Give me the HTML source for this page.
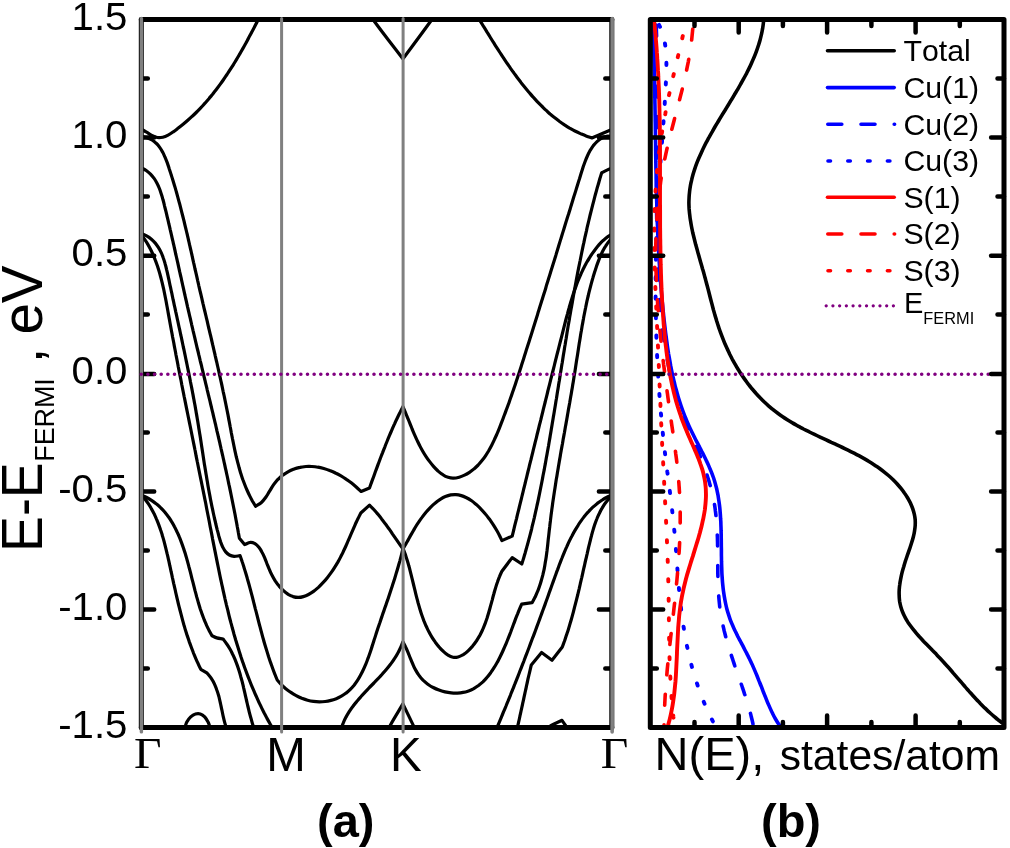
<!DOCTYPE html>
<html lang="en"><head><meta charset="utf-8"><title>Band structure and DOS</title>
<style>html,body{margin:0;padding:0;background:#fff}text{font-kerning:none}svg{display:block}</style></head>
<body>
<svg width="1010" height="848" viewBox="0 0 1010 848">
<rect width="1010" height="848" fill="#fff"/>
<defs><clipPath id="ca"><rect x="141.3" y="19.5" width="470.5" height="707.9"/></clipPath>
<clipPath id="cb"><rect x="650.3" y="19.5" width="353.7" height="707.9"/></clipPath></defs>
<g clip-path="url(#ca)" fill="none" stroke="#000" stroke-width="3.2" stroke-linejoin="round" stroke-linecap="round">
<path d="M141.0 129.0C142.7 130.0 144.5 130.9 146.1 131.9C148.0 133.0 149.8 134.3 151.7 135.3C153.5 136.2 155.4 137.1 157.3 137.5C159.1 137.8 161.0 137.6 162.8 137.2C164.6 136.8 166.4 136.0 168.1 135.1C169.9 134.2 171.6 133.0 173.3 131.8C175.0 130.7 176.6 129.4 178.3 128.1C179.9 126.9 181.5 125.6 183.1 124.3C184.7 123.0 186.2 121.7 187.8 120.3C189.3 119.0 190.8 117.6 192.3 116.2C193.8 114.9 195.2 113.5 196.7 112.0C198.1 110.6 199.5 109.1 200.9 107.7C202.3 106.2 203.6 104.7 205.0 103.2C206.3 101.7 207.6 100.2 208.9 98.7C210.2 97.1 211.5 95.6 212.8 94.0C214.0 92.4 215.3 90.8 216.5 89.2C217.7 87.6 218.9 86.0 220.1 84.4C221.3 82.8 222.5 81.1 223.6 79.5C224.8 77.8 225.9 76.1 227.0 74.5C228.1 72.8 229.2 71.1 230.3 69.4C231.4 67.7 232.5 66.0 233.6 64.3C234.6 62.6 235.7 60.8 236.7 59.1C237.8 57.4 238.8 55.6 239.8 53.9C240.8 52.1 241.8 50.4 242.8 48.6C243.8 46.8 244.8 45.1 245.8 43.3C246.7 41.5 247.7 39.8 248.6 38.0C249.6 36.2 250.5 34.4 251.5 32.6C252.4 30.8 253.4 29.0 254.3 27.3C255.2 25.5 256.1 23.7 257.1 21.9C258.0 20.1 258.9 18.3 259.8 16.5"/>
<path d="M477.5 16.5C478.5 18.2 479.6 19.9 480.6 21.6C481.7 23.3 482.7 25.0 483.7 26.7C484.8 28.4 485.9 30.2 486.9 31.9C488.0 33.6 489.0 35.3 490.1 37.0C491.2 38.8 492.2 40.5 493.3 42.2C494.4 43.9 495.5 45.7 496.6 47.4C497.7 49.1 498.8 50.8 499.9 52.5C501.0 54.2 502.1 56.0 503.3 57.7C504.4 59.4 505.5 61.1 506.7 62.8C507.9 64.4 509.0 66.1 510.2 67.8C511.4 69.5 512.6 71.2 513.8 72.8C515.0 74.5 516.2 76.1 517.4 77.8C518.6 79.4 519.9 81.0 521.1 82.7C522.4 84.3 523.7 85.9 525.0 87.5C526.2 89.0 527.5 90.6 528.9 92.2C530.2 93.7 531.5 95.3 532.9 96.8C534.2 98.3 535.6 99.8 537.0 101.3C538.4 102.8 539.8 104.2 541.3 105.7C542.7 107.1 544.2 108.5 545.6 109.9C547.1 111.3 548.6 112.6 550.1 114.0C551.7 115.3 553.2 116.6 554.8 117.8C556.4 119.1 558.0 120.3 559.6 121.5C561.2 122.6 562.9 123.8 564.5 124.9C566.2 126.0 567.9 127.1 569.6 128.1C571.4 129.1 573.1 130.1 574.9 131.0C576.7 131.9 578.6 132.8 580.4 133.6C582.3 134.4 584.1 135.2 586.1 135.9C588.0 136.6 590.0 137.2 591.9 137.9C594.6 136.8 597.3 135.6 600.0 134.5C603.1 133.2 606.3 131.8 609.4 130.5C610.6 130.0 611.8 129.5 613.0 129.0"/>
<path d="M372.0 16.5C372.6 17.9 373.0 19.5 373.9 20.8C383.3 33.7 393.2 46.2 402.9 58.9C412.3 46.2 421.8 33.6 431.0 20.8C431.8 19.6 432.3 18.3 433.0 17.0"/>
<path d="M141.0 136.4C143.0 136.8 145.0 137.0 146.9 137.6C148.7 138.2 150.4 139.0 152.0 140.0C153.5 140.9 154.9 142.0 156.2 143.3C157.5 144.5 158.6 145.9 159.7 147.4C160.8 148.9 161.7 150.5 162.6 152.1C163.5 153.8 164.3 155.6 165.1 157.3C165.9 159.2 166.6 161.0 167.3 162.9C168.0 164.8 168.6 166.8 169.2 168.7C169.9 170.6 170.5 172.6 171.1 174.5C171.7 176.4 172.3 178.4 172.9 180.3C173.5 182.3 174.1 184.2 174.7 186.2C175.2 188.1 175.8 190.0 176.4 192.0C176.9 193.9 177.4 195.9 178.0 197.9C178.5 199.8 179.0 201.8 179.6 203.7C180.1 205.7 180.6 207.6 181.1 209.6C181.6 211.6 182.1 213.5 182.6 215.5C183.1 217.4 183.6 219.4 184.1 221.4C184.5 223.3 185.0 225.3 185.5 227.3C186.0 229.2 186.4 231.2 186.9 233.2C187.4 235.1 187.8 237.1 188.3 239.1C188.7 241.0 189.2 243.0 189.6 244.9C190.1 246.9 190.5 248.9 191.0 250.8C191.4 252.8 191.9 254.8 192.3 256.7C192.7 258.7 193.2 260.7 193.6 262.6C194.1 264.6 194.5 266.5 194.9 268.5C195.4 270.5 195.8 272.4 196.3 274.4C196.7 276.3 197.2 278.3 197.6 280.3C198.1 282.2 198.5 284.2 198.9 286.1C199.4 288.1 199.8 290.0 200.3 292.0C200.8 293.9 201.2 295.9 201.7 297.8C202.1 299.8 202.6 301.7 203.0 303.6C203.5 305.6 203.9 307.5 204.4 309.5C204.9 311.4 205.3 313.4 205.8 315.3C206.2 317.3 206.7 319.2 207.2 321.1C207.6 323.1 208.1 325.0 208.5 327.0C209.0 328.9 209.4 330.9 209.9 332.8C210.4 334.7 210.8 336.7 211.3 338.6C211.7 340.6 212.2 342.5 212.6 344.4C213.1 346.4 213.5 348.3 214.0 350.3C214.4 352.2 214.9 354.2 215.3 356.1C215.8 358.1 216.2 360.0 216.7 362.0C217.1 363.9 217.6 365.8 218.0 367.8C218.4 369.7 218.9 371.7 219.3 373.6C219.7 375.6 220.2 377.6 220.6 379.5C221.0 381.5 221.5 383.4 221.9 385.4C222.3 387.3 222.7 389.3 223.1 391.3C223.6 393.2 224.0 395.2 224.4 397.1C224.8 399.1 225.2 401.1 225.6 403.0C226.0 405.0 226.4 407.0 226.8 409.0C227.2 410.9 227.6 412.9 228.0 414.9C228.4 416.9 228.7 418.9 229.1 420.8C229.5 422.8 229.9 424.8 230.2 426.8C230.6 428.8 231.0 430.8 231.3 432.8C231.7 434.7 232.1 436.7 232.5 438.7C232.9 440.7 233.3 442.7 233.7 444.7C234.1 446.6 234.5 448.6 234.9 450.6C235.3 452.5 235.8 454.5 236.2 456.5C236.7 458.4 237.2 460.4 237.7 462.3C238.2 464.2 238.7 466.2 239.2 468.1C239.8 470.0 240.3 471.9 240.9 473.8C241.5 475.7 242.2 477.6 242.8 479.5C243.5 481.3 244.2 483.2 244.9 485.0C245.6 486.9 246.4 488.7 247.2 490.5C248.0 492.3 248.8 494.1 249.7 495.9C250.6 497.7 251.5 499.4 252.5 501.2C253.5 502.9 254.6 504.6 255.6 506.3C257.5 505.0 259.7 504.0 261.4 502.5C263.1 501.0 264.5 499.1 265.8 497.3C267.2 495.3 268.3 493.2 269.6 491.2C270.8 489.2 271.9 487.1 273.3 485.1C274.6 483.2 276.1 481.5 277.5 479.7C279.3 478.2 281.0 476.5 282.8 475.1C284.6 473.8 286.5 472.7 288.4 471.6C290.2 470.6 292.2 469.8 294.1 469.0C296.0 468.3 298.0 467.8 300.0 467.4C301.9 466.9 303.9 466.7 305.9 466.5C307.9 466.4 309.9 466.4 311.9 466.5C313.9 466.6 315.9 466.8 317.9 467.2C319.9 467.5 321.9 468.0 323.8 468.5C325.8 469.1 327.8 469.7 329.7 470.5C331.6 471.2 333.6 472.0 335.4 473.0C337.3 473.9 339.2 474.9 341.0 475.9C342.9 477.0 344.7 478.2 346.4 479.4C348.2 480.6 349.9 481.8 351.6 483.1C353.3 484.4 354.9 485.8 356.5 487.2C358.1 488.6 359.6 490.1 361.1 491.5L369.5 488.0C370.2 486.0 370.9 484.1 371.6 482.1C372.3 480.1 373.1 478.2 373.8 476.2C374.5 474.2 375.2 472.3 375.9 470.3C376.7 468.3 377.4 466.4 378.1 464.4C378.8 462.4 379.6 460.5 380.3 458.5C381.1 456.5 381.8 454.6 382.6 452.6C383.3 450.7 384.1 448.7 384.9 446.8C385.6 444.8 386.4 442.9 387.2 441.0C388.0 439.0 388.8 437.1 389.6 435.2C390.4 433.2 391.3 431.3 392.1 429.4C392.9 427.5 393.8 425.6 394.7 423.6C395.5 421.7 396.4 419.8 397.3 418.0C398.2 416.1 399.1 414.2 400.1 412.3C401.0 410.4 402.0 408.6 402.9 406.7C403.7 408.5 404.5 410.4 405.3 412.2C406.1 414.1 406.8 415.9 407.6 417.8C408.4 419.6 409.1 421.5 409.9 423.4C410.6 425.3 411.4 427.1 412.1 429.0C412.9 430.9 413.7 432.7 414.5 434.6C415.3 436.4 416.1 438.3 417.0 440.1C417.9 442.0 418.7 443.8 419.7 445.6C420.6 447.4 421.6 449.2 422.6 451.0C423.6 452.8 424.7 454.5 425.9 456.3C427.0 458.0 428.2 459.7 429.5 461.4C430.8 463.1 432.1 464.8 433.5 466.4C434.9 468.0 436.4 469.5 438.0 471.0C439.5 472.3 441.1 473.7 442.9 474.7C444.5 475.8 446.2 476.7 448.1 477.3C449.8 477.8 451.7 478.2 453.5 478.1C455.4 478.1 457.3 477.7 459.2 477.2C461.0 476.7 462.8 475.9 464.5 475.1C466.2 474.3 467.9 473.3 469.5 472.3C471.1 471.3 472.6 470.1 474.0 468.9C475.5 467.7 476.8 466.4 478.2 465.0C479.5 463.6 480.8 462.1 482.0 460.6C483.2 459.1 484.4 457.5 485.5 455.8C486.6 454.1 487.7 452.4 488.7 450.7C489.7 448.9 490.7 447.1 491.7 445.2C492.6 443.4 493.5 441.5 494.4 439.6C495.3 437.6 496.2 435.7 497.0 433.8C497.9 431.8 498.7 429.8 499.5 427.8C500.3 425.9 501.0 423.9 501.8 421.9C502.6 419.9 503.3 418.0 504.0 416.0C504.8 414.1 505.5 412.1 506.2 410.1C507.0 408.2 507.7 406.3 508.4 404.3C509.1 402.4 509.7 400.4 510.4 398.5C511.1 396.6 511.8 394.7 512.4 392.7C513.1 390.8 513.8 388.9 514.4 387.0C515.1 385.1 515.7 383.2 516.3 381.2C517.0 379.3 517.6 377.4 518.2 375.5C518.8 373.6 519.5 371.7 520.1 369.8C520.7 367.9 521.3 366.0 521.9 364.1C522.5 362.2 523.1 360.3 523.7 358.4C524.3 356.5 524.9 354.6 525.5 352.7C526.1 350.8 526.7 348.9 527.3 347.1C527.9 345.2 528.5 343.3 529.1 341.4C529.7 339.5 530.3 337.6 530.9 335.7C531.5 333.8 532.1 331.9 532.7 330.0C533.3 328.0 533.9 326.1 534.5 324.2C535.1 322.3 535.7 320.4 536.3 318.5C536.9 316.6 537.5 314.7 538.0 312.8C538.6 310.9 539.2 309.0 539.8 307.1C540.4 305.2 541.0 303.3 541.6 301.3C542.2 299.4 542.8 297.5 543.4 295.6C544.0 293.7 544.6 291.8 545.2 289.9C545.8 287.9 546.3 286.0 546.9 284.1C547.5 282.2 548.1 280.2 548.7 278.3C549.3 276.4 549.9 274.5 550.5 272.6C551.1 270.6 551.7 268.7 552.3 266.8C552.9 264.8 553.5 262.9 554.1 261.0C554.7 259.0 555.3 257.1 555.9 255.2C556.4 253.2 557.0 251.3 557.6 249.4C558.2 247.4 558.8 245.5 559.4 243.5C560.0 241.6 560.6 239.6 561.2 237.7C561.8 235.8 562.4 233.8 563.0 231.9C563.6 229.9 564.2 228.0 564.8 226.0C565.4 224.0 566.0 222.1 566.6 220.1C567.2 218.2 567.8 216.2 568.5 214.3C569.1 212.3 569.7 210.3 570.3 208.4C570.9 206.4 571.5 204.4 572.1 202.5C572.7 200.5 573.3 198.5 573.9 196.5C574.5 194.6 575.2 192.6 575.8 190.6C576.4 188.6 577.0 186.6 577.6 184.7C578.2 182.7 578.8 180.7 579.5 178.7C580.1 176.7 580.7 174.7 581.3 172.7C581.9 170.7 582.6 168.7 583.2 166.8C583.9 164.8 584.6 162.9 585.3 161.0C586.0 159.1 586.8 157.3 587.6 155.5C588.4 153.7 589.3 152.0 590.2 150.3C591.2 148.7 592.2 147.1 593.3 145.6C594.5 144.2 595.7 142.8 597.0 141.6C598.3 140.4 599.7 139.2 601.3 138.3C602.9 137.4 604.7 136.6 606.5 136.3C608.6 136.0 610.8 136.5 613.0 136.6"/>
<path d="M141.0 167.6C142.7 168.6 144.6 169.4 146.2 170.5C147.7 171.6 149.2 172.8 150.5 174.1C151.8 175.5 153.0 176.9 154.1 178.4C155.2 179.9 156.1 181.6 157.0 183.2C157.9 184.9 158.7 186.7 159.4 188.5C160.1 190.3 160.7 192.2 161.3 194.0C162.0 196.0 162.5 197.9 163.0 199.8C163.6 201.8 164.1 203.8 164.5 205.8C165.0 207.8 165.5 209.7 166.0 211.7C166.5 213.7 166.9 215.7 167.4 217.7C167.9 219.7 168.4 221.7 168.8 223.7C169.3 225.7 169.8 227.7 170.2 229.6C170.7 231.6 171.1 233.6 171.6 235.6C172.0 237.6 172.5 239.6 173.0 241.6C173.4 243.6 173.9 245.6 174.3 247.5C174.8 249.5 175.2 251.5 175.6 253.5C176.1 255.5 176.5 257.5 177.0 259.5C177.4 261.5 177.9 263.4 178.3 265.4C178.7 267.4 179.2 269.4 179.6 271.4C180.1 273.4 180.5 275.4 181.0 277.3C181.4 279.3 181.8 281.3 182.3 283.3C182.7 285.3 183.2 287.3 183.6 289.2C184.0 291.2 184.5 293.2 184.9 295.2C185.4 297.2 185.8 299.2 186.3 301.1C186.7 303.1 187.2 305.1 187.6 307.1C188.1 309.0 188.5 311.0 189.0 313.0C189.4 315.0 189.9 317.0 190.4 318.9C190.8 320.9 191.3 322.9 191.7 324.8C192.2 326.8 192.7 328.8 193.1 330.8C193.6 332.7 194.0 334.7 194.5 336.7C195.0 338.7 195.4 340.6 195.9 342.6C196.4 344.6 196.8 346.5 197.3 348.5C197.8 350.5 198.3 352.4 198.7 354.4C199.2 356.4 199.7 358.3 200.1 360.3C200.6 362.3 201.1 364.2 201.6 366.2C202.0 368.2 202.5 370.1 203.0 372.1C203.5 374.1 203.9 376.0 204.4 378.0C204.9 380.0 205.3 381.9 205.8 383.9C206.3 385.9 206.8 387.8 207.2 389.8C207.7 391.8 208.2 393.7 208.6 395.7C209.1 397.7 209.6 399.6 210.1 401.6C210.5 403.6 211.0 405.5 211.5 407.5C211.9 409.5 212.4 411.4 212.9 413.4C213.3 415.4 213.8 417.3 214.3 419.3C214.7 421.3 215.2 423.2 215.7 425.2C216.1 427.2 216.6 429.1 217.0 431.1C217.5 433.1 218.0 435.0 218.4 437.0C218.9 439.0 219.3 441.0 219.8 442.9C220.2 444.9 220.7 446.9 221.1 448.8C221.6 450.8 222.0 452.8 222.5 454.8C222.9 456.7 223.3 458.7 223.8 460.7C224.2 462.7 224.7 464.6 225.1 466.6C225.5 468.6 226.0 470.6 226.4 472.5C226.8 474.5 227.3 476.5 227.7 478.5C228.1 480.5 228.5 482.4 228.9 484.4C229.4 486.4 229.8 488.4 230.2 490.4C230.6 492.3 231.0 494.3 231.4 496.3C231.8 498.3 232.2 500.3 232.6 502.3C233.0 504.3 233.4 506.3 233.8 508.2C234.2 510.2 234.6 512.2 235.0 514.2C235.4 516.2 235.7 518.2 236.1 520.2C236.5 522.2 236.9 524.2 237.2 526.2C237.6 528.2 238.0 530.2 238.3 532.2C238.7 534.2 239.0 536.2 239.4 538.2L244.6 544.6C246.5 543.9 248.4 542.6 250.3 542.4C251.8 542.2 253.6 542.9 255.0 543.6C256.5 544.5 257.8 545.9 258.9 547.3C260.1 548.8 261.1 550.5 262.0 552.2C263.0 553.9 263.8 555.7 264.6 557.6C265.4 559.4 266.1 561.4 266.8 563.3C267.6 565.2 268.3 567.2 269.2 569.1C270.0 571.1 270.9 573.1 271.9 575.0C272.9 577.0 274.0 578.9 275.2 580.8C276.4 582.6 277.7 584.4 279.1 586.1C280.5 587.7 281.9 589.3 283.5 590.7C284.9 592.0 286.5 593.2 288.2 594.3C289.7 595.2 291.4 596.0 293.1 596.6C294.7 597.1 296.5 597.4 298.2 597.4C299.9 597.4 301.7 597.1 303.3 596.6C305.1 596.1 306.8 595.4 308.5 594.5C310.2 593.6 311.9 592.6 313.5 591.4C315.2 590.2 316.8 588.8 318.4 587.4C320.0 585.9 321.5 584.3 323.0 582.7C324.5 581.1 326.0 579.4 327.3 577.7C328.7 576.0 330.0 574.2 331.3 572.4C332.5 570.7 333.7 568.9 334.8 567.1C335.9 565.4 337.0 563.6 338.0 561.9C339.0 560.1 339.9 558.4 340.8 556.6C341.7 554.8 342.6 553.1 343.4 551.3C344.3 549.5 345.1 547.8 345.9 546.0C346.7 544.2 347.4 542.4 348.2 540.6C349.0 538.9 349.7 537.1 350.5 535.3C351.3 533.4 352.1 531.6 352.9 529.8C353.7 528.0 354.5 526.1 355.3 524.3C356.2 522.4 357.0 520.5 357.9 518.7C358.9 516.8 359.8 514.9 360.8 513.0L369.5 505.1C370.9 506.6 372.4 508.0 373.8 509.5C375.1 511.0 376.5 512.6 377.8 514.1C379.1 515.7 380.4 517.3 381.6 518.9C382.9 520.5 384.1 522.1 385.3 523.8C386.6 525.4 387.7 527.1 388.9 528.7C390.1 530.4 391.3 532.1 392.4 533.8C393.6 535.5 394.8 537.2 395.9 538.8C397.1 540.5 398.2 542.2 399.4 543.9C400.5 545.6 401.7 547.2 402.9 548.9"/>
<path d="M402.9 548.9C403.9 547.2 404.9 545.6 405.9 543.9C406.9 542.1 407.9 540.4 408.8 538.7C409.8 536.9 410.8 535.1 411.8 533.4C412.8 531.6 413.9 529.8 414.9 528.0C416.0 526.2 417.1 524.4 418.3 522.7C419.5 520.9 420.7 519.1 422.0 517.4C423.3 515.6 424.6 513.9 426.0 512.2C427.5 510.5 429.0 508.9 430.5 507.3C432.0 505.8 433.6 504.3 435.3 503.0C436.8 501.6 438.5 500.4 440.2 499.3C441.9 498.3 443.6 497.3 445.4 496.6C447.1 495.9 448.9 495.3 450.7 494.9C452.4 494.6 454.2 494.5 456.0 494.6C457.8 494.7 459.6 495.1 461.3 495.6C463.1 496.1 464.8 496.9 466.5 497.7C468.3 498.6 470.0 499.7 471.6 500.8C473.3 502.0 474.9 503.4 476.5 504.7C478.1 506.2 479.7 507.7 481.2 509.3C482.8 510.9 484.2 512.6 485.6 514.3C487.1 516.0 488.4 517.8 489.8 519.6C491.0 521.4 492.3 523.2 493.5 525.1C494.6 526.8 495.7 528.6 496.8 530.5C497.8 532.2 498.7 533.9 499.6 535.7C500.4 537.3 501.1 539.0 501.9 540.6L512.2 536.1C512.7 534.1 513.2 532.1 513.7 530.2C514.1 528.2 514.6 526.2 515.1 524.2C515.6 522.3 516.1 520.3 516.6 518.3C517.0 516.4 517.5 514.4 518.0 512.4C518.5 510.5 519.0 508.5 519.4 506.6C519.9 504.6 520.4 502.7 520.9 500.7C521.4 498.8 521.8 496.8 522.3 494.8C522.8 492.9 523.3 491.0 523.7 489.0C524.2 487.1 524.7 485.1 525.2 483.2C525.6 481.2 526.1 479.3 526.6 477.4C527.1 475.4 527.5 473.5 528.0 471.5C528.5 469.6 529.0 467.7 529.4 465.7C529.9 463.8 530.4 461.9 530.9 459.9C531.3 458.0 531.8 456.1 532.3 454.1C532.8 452.2 533.2 450.3 533.7 448.3C534.2 446.4 534.7 444.5 535.1 442.6C535.6 440.6 536.1 438.7 536.6 436.8C537.0 434.8 537.5 432.9 538.0 431.0C538.5 429.1 539.0 427.1 539.4 425.2C539.9 423.3 540.4 421.3 540.9 419.4C541.3 417.5 541.8 415.6 542.3 413.6C542.8 411.7 543.2 409.8 543.7 407.8C544.2 405.9 544.7 404.0 545.2 402.0C545.6 400.1 546.1 398.2 546.6 396.3C547.1 394.3 547.6 392.4 548.0 390.4C548.5 388.5 549.0 386.6 549.5 384.6C550.0 382.7 550.5 380.8 550.9 378.8C551.4 376.9 551.9 374.9 552.4 373.0C552.9 371.0 553.4 369.1 553.9 367.2C554.4 365.2 554.8 363.3 555.3 361.3C555.8 359.4 556.3 357.4 556.8 355.4C557.3 353.5 557.8 351.5 558.3 349.6C558.8 347.6 559.3 345.7 559.8 343.7C560.3 341.7 560.8 339.8 561.3 337.8C561.8 335.8 562.3 333.8 562.8 331.9C563.3 329.9 563.8 327.9 564.3 325.9C564.8 324.0 565.3 322.0 565.8 320.0C566.3 318.0 566.8 316.1 567.4 314.1C567.9 312.1 568.4 310.1 569.0 308.2C569.5 306.2 570.1 304.3 570.7 302.3C571.3 300.4 571.9 298.4 572.5 296.5C573.1 294.6 573.7 292.7 574.4 290.8C575.0 288.9 575.7 287.0 576.4 285.1C577.1 283.2 577.8 281.4 578.6 279.5C579.3 277.7 580.1 275.9 580.9 274.1C581.7 272.3 582.6 270.5 583.4 268.7C584.3 267.0 585.2 265.2 586.1 263.5C587.1 261.8 588.0 260.1 589.1 258.5C590.1 256.8 591.1 255.2 592.2 253.6C593.3 252.0 594.4 250.4 595.6 248.9C596.8 247.4 598.0 245.9 599.3 244.4C600.6 243.0 601.9 241.6 603.4 240.3C604.8 239.0 606.3 237.7 607.9 236.6C609.5 235.5 611.3 234.5 613.0 233.5"/>
<path d="M613.0 168.0C611.8 168.3 610.5 168.5 609.4 169.0C606.8 170.1 604.3 171.5 601.7 172.7C601.1 174.6 600.5 176.6 599.9 178.5C599.4 180.4 598.8 182.3 598.3 184.3C597.7 186.2 597.1 188.2 596.6 190.1C596.1 192.0 595.5 194.0 595.0 195.9C594.5 197.9 594.0 199.8 593.5 201.8C593.0 203.7 592.5 205.7 592.0 207.6C591.5 209.6 591.0 211.5 590.5 213.5C590.0 215.4 589.6 217.4 589.1 219.3C588.6 221.3 588.2 223.3 587.7 225.2C587.2 227.2 586.8 229.2 586.4 231.1C585.9 233.1 585.5 235.0 585.0 237.0C584.6 239.0 584.2 241.0 583.8 242.9C583.3 244.9 582.9 246.9 582.5 248.8C582.1 250.8 581.7 252.8 581.3 254.8C580.9 256.7 580.5 258.7 580.1 260.7C579.7 262.7 579.3 264.7 578.9 266.6C578.5 268.6 578.1 270.6 577.7 272.6C577.4 274.6 577.0 276.5 576.6 278.5C576.2 280.5 575.9 282.5 575.5 284.5C575.1 286.5 574.8 288.5 574.4 290.4C574.0 292.4 573.7 294.4 573.3 296.4C573.0 298.4 572.6 300.4 572.3 302.4C571.9 304.4 571.6 306.4 571.2 308.3C570.9 310.3 570.5 312.3 570.2 314.3C569.8 316.3 569.5 318.3 569.2 320.3C568.8 322.3 568.5 324.3 568.1 326.3C567.8 328.3 567.5 330.3 567.1 332.3C566.8 334.3 566.5 336.3 566.2 338.3C565.8 340.3 565.5 342.3 565.2 344.2C564.8 346.2 564.5 348.2 564.2 350.2C563.9 352.2 563.5 354.2 563.2 356.2C562.9 358.2 562.6 360.2 562.3 362.2C561.9 364.2 561.6 366.2 561.3 368.2C561.0 370.2 560.6 372.2 560.3 374.2C560.0 376.2 559.7 378.2 559.4 380.2C559.0 382.2 558.7 384.2 558.4 386.2C558.1 388.2 557.8 390.2 557.4 392.2C557.1 394.2 556.8 396.2 556.5 398.2C556.1 400.2 555.8 402.2 555.5 404.2C555.2 406.2 554.8 408.2 554.5 410.2C554.2 412.1 553.9 414.1 553.5 416.1C553.2 418.1 552.9 420.1 552.5 422.1C552.2 424.1 551.9 426.1 551.5 428.1C551.2 430.1 550.9 432.1 550.5 434.1C550.2 436.1 549.8 438.1 549.5 440.1C549.2 442.1 548.8 444.0 548.5 446.0C548.1 448.0 547.8 450.0 547.4 452.0C547.1 454.0 546.7 456.0 546.3 458.0C546.0 460.0 545.6 461.9 545.3 463.9C544.9 465.9 544.5 467.9 544.2 469.9C543.8 471.9 543.4 473.9 543.0 475.8C542.7 477.8 542.3 479.8 541.9 481.8C541.5 483.8 541.1 485.7 540.7 487.7C540.3 489.7 539.9 491.7 539.5 493.7C539.1 495.6 538.7 497.6 538.3 499.6C537.9 501.6 537.5 503.5 537.0 505.5C536.6 507.5 536.2 509.4 535.7 511.4C535.3 513.4 534.8 515.3 534.4 517.3C533.9 519.3 533.5 521.2 533.0 523.2C532.5 525.1 532.0 527.1 531.6 529.1C531.1 531.0 530.6 533.0 530.1 534.9C529.6 536.9 529.0 538.8 528.5 540.8C528.0 542.7 527.5 544.6 526.9 546.6C526.4 548.5 525.8 550.5 525.3 552.4C524.7 554.3 524.2 556.3 523.6 558.2C523.0 560.1 522.4 562.1 521.8 564.0L512.2 557.6L501.9 571.2C501.1 573.0 500.2 574.8 499.5 576.6C498.7 578.5 498.0 580.4 497.4 582.3C496.7 584.2 496.1 586.1 495.5 588.1C494.9 590.1 494.3 592.0 493.8 594.0C493.2 596.0 492.7 598.0 492.2 600.1C491.6 602.1 491.1 604.1 490.5 606.1C490.0 608.2 489.4 610.2 488.8 612.2C488.2 614.2 487.6 616.2 487.0 618.2C486.3 620.2 485.6 622.2 484.9 624.2C484.1 626.1 483.3 628.1 482.5 630.0C481.6 631.9 480.7 633.8 479.7 635.6C478.6 637.4 477.6 639.2 476.4 641.0C475.2 642.7 473.9 644.5 472.6 646.1C471.2 647.7 469.7 649.3 468.1 650.8C466.6 652.2 465.0 653.6 463.3 654.7C461.7 655.6 459.9 656.6 458.1 657.0C456.5 657.4 454.6 657.6 453.0 657.3C451.2 657.0 449.5 656.1 448.0 655.1C446.3 654.1 444.8 652.7 443.3 651.3C441.8 650.0 440.4 648.4 439.0 646.9C437.7 645.4 436.5 643.8 435.3 642.2C434.1 640.5 432.9 638.8 431.9 637.1C430.8 635.4 429.8 633.6 428.9 631.8C427.9 630.0 427.1 628.1 426.2 626.3C425.4 624.4 424.6 622.5 423.8 620.6C423.1 618.6 422.4 616.6 421.7 614.7C421.0 612.7 420.4 610.7 419.8 608.7C419.2 606.6 418.6 604.6 418.0 602.5C417.5 600.5 416.9 598.4 416.4 596.4C415.9 594.3 415.4 592.3 414.9 590.2C414.4 588.1 413.9 586.1 413.4 584.0C412.9 581.9 412.4 579.9 411.9 577.9C411.4 575.8 410.9 573.8 410.4 571.8C409.9 569.8 409.4 567.8 408.8 565.8C408.3 563.9 407.7 561.9 407.1 560.0C406.5 558.1 405.9 556.2 405.3 554.3C404.6 552.5 403.9 550.7 403.2 548.9"/>
<path d="M141.0 233.3C142.9 234.2 144.8 234.9 146.6 235.9C148.3 236.8 149.9 237.9 151.4 239.2C152.8 240.4 154.1 241.7 155.3 243.1C156.5 244.5 157.5 246.1 158.5 247.7C159.5 249.3 160.4 250.9 161.2 252.6C162.0 254.4 162.7 256.2 163.3 258.0C164.0 259.9 164.6 261.8 165.1 263.7C165.7 265.7 166.2 267.6 166.6 269.6C167.1 271.6 167.6 273.6 168.0 275.6C168.4 277.6 168.9 279.7 169.3 281.7C169.7 283.7 170.1 285.7 170.6 287.7C171.0 289.7 171.4 291.7 171.9 293.7C172.3 295.7 172.7 297.7 173.1 299.7C173.6 301.7 174.0 303.7 174.4 305.7C174.9 307.6 175.3 309.6 175.7 311.6C176.2 313.6 176.6 315.6 177.0 317.5C177.4 319.5 177.9 321.5 178.3 323.5C178.7 325.4 179.1 327.4 179.6 329.4C180.0 331.3 180.4 333.3 180.8 335.2C181.3 337.2 181.7 339.2 182.1 341.1C182.5 343.1 182.9 345.0 183.3 347.0C183.8 348.9 184.2 350.9 184.6 352.8C185.0 354.8 185.4 356.7 185.8 358.7C186.2 360.6 186.6 362.6 187.0 364.5C187.4 366.5 187.8 368.4 188.2 370.4C188.6 372.3 189.0 374.3 189.4 376.2C189.8 378.1 190.2 380.1 190.5 382.0C190.9 384.0 191.3 385.9 191.7 387.9C192.1 389.8 192.4 391.8 192.8 393.7C193.2 395.6 193.5 397.6 193.9 399.5C194.2 401.5 194.6 403.4 195.0 405.4C195.3 407.3 195.6 409.3 196.0 411.2C196.3 413.2 196.7 415.1 197.0 417.1C197.3 419.0 197.7 421.0 198.0 422.9C198.3 424.9 198.6 426.8 198.9 428.8C199.2 430.7 199.6 432.7 199.9 434.7C200.2 436.6 200.5 438.6 200.8 440.5C201.1 442.5 201.4 444.5 201.7 446.4C202.0 448.4 202.3 450.4 202.6 452.3C202.9 454.3 203.2 456.3 203.5 458.2C203.8 460.2 204.1 462.2 204.4 464.2C204.7 466.1 205.1 468.1 205.4 470.1C205.7 472.1 206.0 474.1 206.4 476.0C206.7 478.0 207.0 480.0 207.4 482.0C207.7 484.0 208.0 486.0 208.4 488.0C208.8 490.0 209.1 492.0 209.5 493.9C209.9 495.9 210.2 497.9 210.6 499.9C211.0 501.9 211.4 503.9 211.8 505.9C212.2 507.9 212.7 510.0 213.1 512.0C213.5 514.0 214.0 516.0 214.4 518.0C214.9 520.0 215.4 522.0 215.8 524.0C216.3 526.0 216.8 528.1 217.3 530.1C217.9 532.1 218.4 534.1 218.9 536.2C219.5 538.1 220.0 540.1 220.7 542.1C221.4 543.9 222.0 545.7 222.9 547.4C223.7 549.0 224.6 550.6 225.7 551.9C226.7 553.1 228.0 554.3 229.4 555.0C230.8 555.8 232.5 556.3 234.1 556.4C236.1 556.5 238.1 555.9 240.1 555.7C240.8 557.6 241.5 559.6 242.1 561.5C242.8 563.5 243.4 565.5 244.0 567.4C244.6 569.4 245.2 571.3 245.8 573.3C246.4 575.3 247.0 577.3 247.5 579.2C248.1 581.2 248.7 583.2 249.2 585.2C249.7 587.2 250.3 589.2 250.8 591.2C251.3 593.2 251.9 595.1 252.4 597.1C252.9 599.1 253.4 601.1 253.9 603.1C254.4 605.1 254.9 607.1 255.4 609.1C256.0 611.1 256.5 613.1 257.0 615.1C257.5 617.1 258.0 619.1 258.5 621.1C259.0 623.1 259.5 625.1 260.1 627.1C260.6 629.1 261.1 631.1 261.7 633.1C262.2 635.0 262.7 637.0 263.3 639.0C263.8 641.0 264.4 643.0 265.0 645.0C265.6 646.9 266.2 648.9 266.8 650.9C267.4 652.8 268.0 654.8 268.6 656.8C269.3 658.7 269.9 660.7 270.6 662.6C271.3 664.6 272.0 666.5 272.7 668.5C273.4 670.4 274.1 672.3 274.9 674.3C275.6 676.2 276.4 678.1 277.2 680.0C278.6 681.5 279.8 683.1 281.3 684.5C282.7 686.0 284.3 687.4 285.8 688.7C287.5 690.0 289.1 691.3 290.9 692.4C292.6 693.6 294.4 694.7 296.2 695.6C298.0 696.6 299.9 697.5 301.8 698.3C303.7 699.0 305.7 699.7 307.6 700.2C309.5 700.7 311.5 701.1 313.5 701.4C315.5 701.7 317.4 701.8 319.4 701.8C321.3 701.8 323.3 701.7 325.2 701.5C327.1 701.3 329.0 700.9 330.9 700.4C332.7 700.0 334.5 699.4 336.3 698.7C338.0 698.0 339.8 697.1 341.4 696.2C343.0 695.3 344.6 694.3 346.1 693.1C347.6 692.0 349.0 690.7 350.3 689.4C351.6 688.1 352.9 686.6 354.1 685.2C355.3 683.6 356.4 682.1 357.5 680.4C358.6 678.8 359.6 677.0 360.5 675.3C361.5 673.5 362.4 671.7 363.3 669.8C364.2 668.0 365.0 666.0 365.8 664.1C366.6 662.2 367.3 660.2 368.1 658.2C368.8 656.2 369.5 654.2 370.2 652.2C370.9 650.2 371.5 648.1 372.2 646.1C372.8 644.1 373.5 642.1 374.1 640.0C374.8 638.1 375.4 636.1 376.0 634.1C376.7 632.1 377.3 630.2 377.9 628.3C378.6 626.3 379.2 624.4 379.9 622.5C380.5 620.7 381.1 618.8 381.8 616.9C382.4 615.1 383.0 613.2 383.7 611.4C384.3 609.5 384.9 607.7 385.6 605.9C386.2 604.0 386.8 602.2 387.5 600.4C388.1 598.6 388.7 596.8 389.3 594.9C389.9 593.1 390.5 591.3 391.1 589.5C391.8 587.6 392.4 585.8 392.9 583.9C393.5 582.1 394.1 580.2 394.7 578.4C395.3 576.5 395.9 574.6 396.4 572.7C397.0 570.8 397.6 568.9 398.1 567.0C398.7 565.0 399.2 563.1 399.8 561.1C400.3 559.1 400.9 557.1 401.4 555.1C401.9 553.0 402.4 551.0 402.9 548.9"/>
<path d="M141.0 234.5C142.2 236.1 143.4 237.6 144.5 239.2C145.6 240.8 146.7 242.4 147.7 244.1C148.7 245.8 149.6 247.5 150.5 249.2C151.4 251.0 152.2 252.7 153.0 254.5C153.8 256.3 154.5 258.1 155.2 259.9C156.0 261.8 156.6 263.6 157.3 265.5C157.9 267.4 158.5 269.3 159.1 271.2C159.7 273.1 160.2 275.0 160.7 277.0C161.2 278.9 161.7 280.9 162.2 282.8C162.7 284.8 163.1 286.8 163.6 288.8C164.0 290.7 164.4 292.7 164.8 294.7C165.2 296.7 165.6 298.8 166.0 300.8C166.4 302.8 166.7 304.8 167.1 306.8C167.5 308.8 167.8 310.9 168.2 312.9C168.6 314.9 168.9 316.9 169.3 318.9C169.7 320.9 170.0 323.0 170.4 325.0C170.8 327.0 171.1 329.0 171.5 331.0C171.9 333.0 172.3 335.0 172.6 337.0C173.0 339.0 173.4 341.0 173.8 343.0C174.1 345.0 174.5 347.0 174.9 349.0C175.3 351.0 175.7 353.0 176.0 355.0C176.4 357.0 176.8 359.0 177.2 361.0C177.6 363.0 178.0 365.0 178.3 367.0C178.7 368.9 179.1 370.9 179.5 372.9C179.9 374.9 180.3 376.9 180.7 378.9C181.1 380.9 181.5 382.8 181.8 384.8C182.2 386.8 182.6 388.8 183.0 390.8C183.4 392.7 183.8 394.7 184.2 396.7C184.6 398.7 185.0 400.6 185.4 402.6C185.8 404.6 186.2 406.6 186.6 408.6C187.0 410.5 187.4 412.5 187.8 414.5C188.2 416.5 188.6 418.4 189.0 420.4C189.4 422.4 189.8 424.3 190.2 426.3C190.6 428.3 191.0 430.3 191.4 432.2C191.8 434.2 192.2 436.2 192.6 438.2C193.0 440.1 193.4 442.1 193.8 444.1C194.2 446.0 194.6 448.0 195.0 450.0C195.4 452.0 195.8 453.9 196.1 455.9C196.5 457.9 196.9 459.8 197.3 461.8C197.7 463.8 198.1 465.8 198.5 467.7C198.9 469.7 199.3 471.7 199.7 473.7C200.1 475.6 200.5 477.6 200.9 479.6C201.3 481.6 201.7 483.5 202.1 485.5C202.5 487.5 202.9 489.5 203.3 491.4C203.7 493.4 204.1 495.4 204.5 497.4C204.9 499.4 205.3 501.3 205.7 503.3C206.1 505.3 206.4 507.3 206.8 509.3C207.2 511.3 207.6 513.2 208.0 515.2C208.4 517.2 208.8 519.2 209.2 521.2C209.6 523.2 209.9 525.2 210.3 527.2C210.7 529.2 211.1 531.1 211.5 533.1C211.9 535.1 212.3 537.1 212.6 539.1C213.0 541.1 213.4 543.1 213.8 545.1C214.2 547.1 214.6 549.1 215.0 551.1C215.4 553.1 215.8 555.1 216.2 557.1C216.6 559.1 217.0 561.1 217.4 563.1C217.8 565.0 218.2 567.0 218.6 569.0C219.0 571.0 219.4 573.0 219.8 575.0C220.2 577.0 220.6 579.0 221.1 581.0C221.5 583.0 221.9 584.9 222.4 586.9C222.8 588.9 223.2 590.9 223.7 592.9C224.1 594.9 224.6 596.8 225.0 598.8C225.5 600.8 226.0 602.8 226.4 604.8C226.9 606.7 227.4 608.7 227.9 610.7C228.3 612.6 228.8 614.6 229.3 616.6C229.8 618.5 230.3 620.5 230.8 622.4C231.4 624.4 231.9 626.4 232.4 628.3C233.0 630.3 233.5 632.2 234.0 634.2C234.6 636.1 235.2 638.0 235.7 640.0C236.3 641.9 236.9 643.8 237.5 645.8C238.1 647.7 238.7 649.6 239.3 651.6C239.9 653.5 240.5 655.4 241.1 657.3C241.8 659.2 242.4 661.1 243.1 663.0C243.7 664.9 244.4 666.8 245.1 668.7C245.8 670.6 246.5 672.5 247.2 674.4C247.9 676.3 248.6 678.1 249.4 680.0C250.1 681.9 250.8 683.7 251.6 685.6C252.4 687.5 253.2 689.3 254.0 691.2C254.7 693.0 255.6 694.9 256.4 696.7C257.2 698.5 258.0 700.4 258.9 702.2C259.8 704.0 260.6 705.8 261.5 707.6C262.4 709.4 263.3 711.2 264.2 713.0C265.2 714.8 266.1 716.6 267.0 718.4C268.0 720.2 269.0 722.0 270.0 723.7C271.0 725.5 272.0 727.2 273.0 729.0"/>
<path d="M613.0 237.0C611.7 238.4 610.3 239.7 609.1 241.2C607.9 242.6 606.8 244.2 605.8 245.8C604.7 247.4 603.8 249.0 602.9 250.7C602.0 252.4 601.2 254.2 600.5 255.9C599.7 257.7 599.0 259.5 598.3 261.4C597.6 263.2 596.9 265.1 596.3 266.9C595.7 268.8 595.1 270.7 594.5 272.5C593.9 274.4 593.3 276.3 592.8 278.2C592.2 280.1 591.7 282.0 591.2 283.9C590.7 285.9 590.2 287.8 589.7 289.7C589.2 291.6 588.7 293.6 588.3 295.5C587.8 297.5 587.4 299.4 586.9 301.4C586.5 303.3 586.1 305.3 585.7 307.3C585.3 309.2 584.9 311.2 584.5 313.2C584.1 315.1 583.7 317.1 583.4 319.1C583.0 321.1 582.7 323.1 582.3 325.1C582.0 327.0 581.6 329.0 581.3 331.0C580.9 333.0 580.6 335.0 580.3 337.0C580.0 339.0 579.7 341.0 579.3 343.0C579.0 345.0 578.7 347.0 578.4 349.0C578.1 351.0 577.8 353.0 577.5 355.0C577.2 357.0 576.8 359.0 576.5 361.0C576.2 363.0 575.9 365.0 575.6 367.0C575.3 369.0 575.0 371.0 574.7 373.0C574.3 375.0 574.0 377.0 573.7 379.0C573.4 381.0 573.1 382.9 572.7 384.9C572.4 386.9 572.1 388.9 571.7 390.9C571.4 392.8 571.1 394.8 570.7 396.8C570.4 398.8 570.0 400.7 569.7 402.7C569.3 404.7 569.0 406.7 568.6 408.6C568.3 410.6 568.0 412.6 567.6 414.5C567.3 416.5 566.9 418.5 566.6 420.4C566.2 422.4 565.9 424.3 565.5 426.3C565.2 428.3 564.8 430.2 564.5 432.2C564.1 434.2 563.8 436.1 563.4 438.1C563.1 440.0 562.7 442.0 562.4 444.0C562.0 445.9 561.7 447.9 561.3 449.8C561.0 451.8 560.6 453.8 560.3 455.7C560.0 457.7 559.6 459.6 559.3 461.6C559.0 463.6 558.6 465.5 558.3 467.5C558.0 469.5 557.6 471.4 557.3 473.4C557.0 475.4 556.7 477.3 556.3 479.3C556.0 481.3 555.7 483.2 555.4 485.2C555.1 487.2 554.8 489.1 554.5 491.1C554.2 493.1 553.9 495.1 553.6 497.0C553.3 499.0 553.0 501.0 552.7 503.0C552.5 505.0 552.2 507.0 551.9 508.9C551.7 510.9 551.4 512.9 551.1 514.9C550.9 516.9 550.6 518.9 550.4 520.9C550.1 522.9 549.9 524.9 549.7 526.9C549.4 528.9 549.2 530.9 549.0 532.9C548.8 534.9 548.6 536.9 548.3 538.9C548.1 540.9 547.9 542.9 547.7 545.0C547.5 547.0 547.2 549.0 547.0 551.0C546.7 553.0 546.5 555.0 546.2 557.0C545.9 559.0 545.6 560.9 545.2 562.9C544.9 564.9 544.6 566.9 544.2 568.8C543.8 570.8 543.3 572.8 542.9 574.7C542.4 576.6 541.9 578.6 541.3 580.5C540.8 582.4 540.2 584.3 539.5 586.2C538.9 588.1 538.2 590.0 537.4 591.8C536.7 593.7 535.8 595.5 535.0 597.3C534.1 599.1 533.1 600.9 532.1 602.7L521.7 604.1C521.0 605.7 520.3 607.3 519.6 608.9C518.9 610.6 518.2 612.3 517.5 614.1C516.7 615.9 516.0 617.8 515.3 619.6C514.6 621.6 513.9 623.5 513.1 625.5C512.4 627.5 511.6 629.5 510.9 631.5C510.1 633.6 509.3 635.6 508.5 637.7C507.7 639.7 506.8 641.8 506.0 643.8C505.1 645.9 504.2 647.9 503.3 650.0C502.4 652.0 501.5 654.0 500.5 656.0C499.5 658.0 498.5 659.9 497.5 661.9C496.4 663.7 495.4 665.6 494.2 667.4C493.1 669.2 491.9 671.0 490.7 672.7C489.5 674.3 488.3 675.9 486.9 677.5C485.7 679.0 484.3 680.4 482.9 681.8C481.5 683.1 480.0 684.3 478.5 685.5C477.0 686.6 475.4 687.6 473.8 688.6C472.1 689.5 470.4 690.3 468.6 690.9C466.9 691.5 465.0 692.1 463.1 692.4C461.2 692.8 459.2 693.0 457.3 693.1C455.3 693.2 453.2 693.1 451.2 692.9C449.1 692.7 447.1 692.4 445.0 691.9C443.0 691.4 440.9 690.8 439.0 690.1C437.0 689.4 435.0 688.5 433.2 687.5C431.3 686.6 429.5 685.4 427.8 684.2C426.1 683.0 424.5 681.6 423.0 680.2C421.5 678.7 420.2 677.1 419.0 675.4C417.7 673.7 416.7 671.9 415.7 670.1C414.6 668.2 413.7 666.3 412.9 664.3C412.0 662.4 411.2 660.4 410.4 658.4C409.6 656.5 408.9 654.5 408.1 652.6C407.3 650.7 406.5 648.8 405.6 647.0C404.8 645.2 403.8 643.5 402.9 641.8C402.1 643.8 401.4 645.9 400.5 647.8C399.6 649.8 398.7 651.7 397.6 653.5C396.6 655.4 395.5 657.2 394.3 658.9C393.2 660.7 391.9 662.4 390.7 664.0C389.4 665.7 388.1 667.4 386.7 669.0C385.4 670.6 384.0 672.2 382.6 673.7C381.2 675.3 379.7 676.8 378.3 678.4C376.8 679.9 375.3 681.4 373.9 683.0C372.4 684.5 370.9 686.0 369.4 687.5C368.0 689.0 366.5 690.6 365.1 692.1C363.6 693.7 362.2 695.2 360.8 696.8C359.4 698.3 358.0 699.9 356.7 701.6C355.3 703.2 354.0 704.8 352.8 706.5C351.5 708.2 350.3 709.9 349.2 711.7C348.1 713.5 347.0 715.3 346.0 717.1C345.0 719.0 344.1 720.9 343.3 722.9C342.4 724.9 341.8 727.0 341.0 729.0"/>
<path d="M141.0 494.8C142.9 495.7 144.8 496.5 146.7 497.5C148.5 498.4 150.2 499.5 151.9 500.6C153.5 501.7 155.1 502.8 156.6 504.1C158.1 505.3 159.6 506.6 160.9 508.0C162.3 509.3 163.6 510.7 164.9 512.2C166.1 513.7 167.3 515.2 168.4 516.8C169.5 518.3 170.6 519.9 171.6 521.6C172.6 523.2 173.6 524.9 174.5 526.7C175.4 528.4 176.3 530.2 177.1 532.0C178.0 533.8 178.8 535.6 179.5 537.4C180.3 539.3 181.0 541.2 181.7 543.1C182.4 545.0 183.1 546.9 183.7 548.9C184.4 550.8 185.0 552.8 185.6 554.7C186.2 556.7 186.7 558.7 187.3 560.7C187.8 562.7 188.4 564.7 188.9 566.7C189.5 568.7 190.0 570.7 190.5 572.7C191.0 574.8 191.5 576.8 192.0 578.8C192.5 580.8 193.1 582.8 193.6 584.9C194.1 586.9 194.6 588.9 195.1 590.9C195.7 592.9 196.2 594.9 196.7 596.9C197.3 598.9 197.9 600.9 198.4 602.8C199.0 604.8 199.6 606.7 200.2 608.7C200.9 610.6 201.5 612.5 202.2 614.4C202.9 616.3 203.6 618.1 204.3 620.0C205.1 621.8 205.8 623.6 206.6 625.4C207.5 627.2 208.3 629.0 209.2 630.7C210.1 632.4 211.1 634.1 212.0 635.8C213.6 636.5 215.1 637.4 216.8 637.9C218.8 638.5 221.0 638.6 223.1 639.0C224.3 640.6 225.5 642.1 226.6 643.8C227.8 645.4 228.8 647.1 229.8 648.8C230.8 650.5 231.7 652.2 232.5 654.0C233.4 655.7 234.2 657.5 235.0 659.4C235.7 661.2 236.4 663.0 237.1 664.9C237.8 666.8 238.4 668.7 239.0 670.6C239.6 672.5 240.2 674.4 240.7 676.4C241.3 678.3 241.8 680.3 242.3 682.2C242.8 684.2 243.3 686.2 243.7 688.1C244.2 690.1 244.6 692.1 245.1 694.1C245.5 696.1 246.0 698.1 246.4 700.0C246.9 702.0 247.3 704.0 247.8 706.0C248.3 707.9 248.7 709.9 249.2 711.9C249.7 713.8 250.2 715.7 250.8 717.7C251.3 719.6 251.8 721.5 252.4 723.4C253.0 725.3 253.7 727.1 254.3 729.0"/>
<path d="M141.0 494.5C142.3 496.0 143.6 497.4 144.9 498.9C146.1 500.4 147.2 502.0 148.3 503.6C149.4 505.2 150.4 506.9 151.3 508.6C152.3 510.3 153.2 512.0 154.1 513.7C154.9 515.5 155.7 517.3 156.5 519.1C157.3 520.9 158.0 522.8 158.7 524.6C159.4 526.5 160.1 528.4 160.7 530.3C161.4 532.2 162.0 534.1 162.5 536.0C163.1 538.0 163.7 539.9 164.2 541.9C164.7 543.8 165.2 545.8 165.7 547.8C166.2 549.8 166.7 551.8 167.1 553.7C167.6 555.7 168.1 557.7 168.5 559.7C169.0 561.7 169.4 563.7 169.8 565.7C170.3 567.7 170.7 569.7 171.1 571.7C171.6 573.7 172.0 575.6 172.4 577.6C172.9 579.6 173.3 581.6 173.7 583.6C174.2 585.5 174.6 587.5 175.1 589.5C175.5 591.5 175.9 593.4 176.4 595.4C176.8 597.3 177.3 599.3 177.8 601.3C178.2 603.2 178.7 605.2 179.2 607.1C179.7 609.0 180.2 611.0 180.7 612.9C181.2 614.9 181.7 616.8 182.2 618.7C182.7 620.6 183.3 622.6 183.8 624.5C184.4 626.4 184.9 628.3 185.5 630.2C186.1 632.1 186.7 634.0 187.3 635.9C188.0 637.8 188.6 639.7 189.2 641.6C189.9 643.5 190.6 645.3 191.3 647.2C192.0 649.1 192.7 650.9 193.4 652.8C194.2 654.7 194.9 656.5 195.7 658.3C196.5 660.2 197.3 662.0 198.2 663.8C199.0 665.7 199.9 667.5 200.8 669.3L207.2 673.2C208.6 674.9 210.1 676.6 211.3 678.4C212.5 680.2 213.6 682.1 214.5 684.1C215.4 686.1 216.2 688.1 216.9 690.2C217.7 692.3 218.3 694.4 218.9 696.5C219.4 698.7 219.9 700.9 220.4 703.1C220.9 705.3 221.3 707.5 221.8 709.7C222.3 711.9 222.7 714.1 223.2 716.3C223.7 718.5 224.2 720.6 224.8 722.8C225.4 724.9 226.1 726.9 226.8 729.0"/>
<path d="M184.5 729.0C185.3 726.7 185.7 724.2 186.8 722.1C187.8 720.2 189.1 718.4 190.7 716.9C192.0 715.7 193.7 714.5 195.4 714.0C196.9 713.5 198.8 713.4 200.3 713.9C201.9 714.4 203.5 715.6 204.7 716.9C206.1 718.5 207.2 720.4 208.2 722.3C209.2 724.4 209.7 726.8 210.5 729.0"/>
<path d="M389.0 729.0C389.4 727.8 389.6 726.5 390.2 725.4C394.2 718.1 398.7 711.1 402.9 703.9C406.4 711.1 409.8 718.2 413.3 725.4C413.9 726.6 414.4 727.8 415.0 729.0"/>
<path d="M613.0 494.5C611.1 495.3 609.2 496.1 607.4 497.0C605.6 497.9 603.8 498.9 602.2 500.0C600.5 501.1 598.9 502.2 597.3 503.4C595.8 504.6 594.3 505.9 592.9 507.2C591.5 508.5 590.1 509.9 588.8 511.3C587.4 512.7 586.2 514.2 584.9 515.7C583.7 517.3 582.5 518.8 581.4 520.4C580.2 522.0 579.1 523.6 578.1 525.3C577.0 527.0 576.0 528.7 575.0 530.4C574.0 532.1 573.0 533.9 572.1 535.7C571.1 537.4 570.2 539.2 569.3 541.1C568.4 542.9 567.6 544.8 566.8 546.6C565.9 548.5 565.1 550.4 564.3 552.3C563.5 554.2 562.7 556.1 562.0 558.0C561.2 559.9 560.5 561.9 559.7 563.8C559.0 565.7 558.3 567.7 557.6 569.6C556.8 571.6 556.1 573.6 555.4 575.5C554.7 577.5 554.0 579.4 553.3 581.4C552.6 583.3 551.9 585.3 551.2 587.2C550.5 589.1 549.8 591.1 549.1 593.0C548.5 594.9 547.8 596.9 547.1 598.8C546.4 600.7 545.7 602.6 545.0 604.6C544.3 606.5 543.6 608.4 542.9 610.3C542.2 612.2 541.5 614.1 540.8 616.0C540.1 617.9 539.4 619.8 538.7 621.7C538.0 623.6 537.3 625.5 536.6 627.4C535.9 629.3 535.2 631.2 534.5 633.1C533.8 635.0 533.1 636.9 532.3 638.7C531.6 640.6 530.9 642.5 530.2 644.4C529.5 646.3 528.8 648.1 528.1 650.0C527.4 651.9 526.6 653.8 525.9 655.6C525.2 657.5 524.5 659.4 523.8 661.3C523.0 663.1 522.3 665.0 521.6 666.9C520.9 668.8 520.1 670.6 519.4 672.5C518.7 674.4 517.9 676.3 517.2 678.1C516.5 680.0 515.7 681.9 515.0 683.7C514.2 685.6 513.5 687.5 512.7 689.4C512.0 691.3 511.2 693.1 510.5 695.0C509.7 696.9 508.9 698.8 508.2 700.6C507.4 702.5 506.6 704.4 505.9 706.3C505.1 708.2 504.3 710.1 503.5 711.9C502.8 713.8 502.0 715.7 501.2 717.6C500.4 719.5 499.6 721.4 498.8 723.3C498.0 725.2 497.2 727.1 496.4 729.0"/>
<path d="M613.0 494.8C611.6 496.1 610.2 497.4 608.8 498.8C607.6 500.3 606.4 501.7 605.2 503.3C604.1 504.8 603.1 506.4 602.1 508.1C601.1 509.7 600.2 511.5 599.4 513.2C598.5 514.9 597.7 516.7 597.0 518.5C596.2 520.4 595.6 522.2 594.9 524.1C594.3 526.0 593.7 527.9 593.1 529.9C592.5 531.8 592.0 533.8 591.5 535.7C590.9 537.7 590.5 539.7 590.0 541.7C589.5 543.6 589.0 545.6 588.5 547.6C588.1 549.6 587.6 551.6 587.2 553.6C586.7 555.6 586.3 557.5 585.8 559.5C585.3 561.5 584.9 563.5 584.5 565.5C584.0 567.4 583.6 569.4 583.1 571.4C582.7 573.4 582.2 575.4 581.8 577.3C581.3 579.3 580.9 581.3 580.4 583.2C580.0 585.2 579.5 587.2 579.1 589.1C578.6 591.1 578.1 593.1 577.7 595.0C577.2 597.0 576.7 598.9 576.2 600.9C575.7 602.9 575.2 604.8 574.7 606.7C574.2 608.7 573.7 610.6 573.2 612.6C572.7 614.5 572.1 616.4 571.6 618.4C571.1 620.3 570.5 622.2 569.9 624.2C569.4 626.1 568.8 628.0 568.2 629.9C567.6 631.8 566.9 633.7 566.3 635.6C565.7 637.5 565.0 639.4 564.4 641.3C563.7 643.2 563.0 645.1 562.3 647.0L552.0 660.3L541.6 652.5L531.3 664.9C530.8 667.0 530.3 669.2 529.8 671.3C529.3 673.4 528.8 675.6 528.3 677.7C527.8 679.8 527.4 682.0 526.9 684.1C526.4 686.2 526.0 688.4 525.5 690.5C525.0 692.7 524.6 694.8 524.1 696.9C523.7 699.1 523.2 701.2 522.7 703.4C522.3 705.5 521.8 707.6 521.3 709.8C520.9 711.9 520.4 714.1 519.9 716.2C519.5 718.3 519.0 720.5 518.5 722.6C518.0 724.7 517.5 726.9 517.0 729.0"/>
<path d="M547.0 729.0C548.4 727.8 549.6 726.3 551.2 725.4C554.6 723.4 558.4 722.0 562.0 720.3C563.2 722.0 564.4 723.7 565.5 725.4C566.2 726.6 566.8 727.8 567.5 729.0"/>
</g>
<g clip-path="url(#cb)" fill="none" stroke-width="3.6" stroke-linejoin="round" stroke-linecap="round">
<path stroke="#000" d="M763.9 17.0C763.7 19.0 763.6 20.9 763.4 22.9C763.2 24.8 762.9 26.8 762.6 28.7C762.2 30.6 761.9 32.6 761.4 34.5C761.0 36.4 760.5 38.3 760.0 40.2C759.5 42.1 758.9 43.9 758.3 45.8C757.7 47.7 757.1 49.5 756.4 51.4C755.7 53.3 755.0 55.1 754.2 56.9C753.4 58.8 752.7 60.6 751.8 62.4C751.0 64.2 750.2 66.1 749.3 67.9C748.4 69.7 747.5 71.5 746.6 73.3C745.6 75.1 744.7 76.9 743.7 78.7C742.7 80.5 741.8 82.2 740.7 84.0C739.7 85.8 738.7 87.6 737.7 89.3C736.6 91.1 735.6 92.9 734.5 94.6C733.5 96.4 732.4 98.2 731.3 99.9C730.3 101.7 729.2 103.5 728.1 105.2C727.0 107.0 726.0 108.7 724.9 110.5C723.8 112.2 722.7 114.0 721.7 115.7C720.6 117.5 719.5 119.3 718.5 121.0C717.4 122.8 716.4 124.5 715.3 126.3C714.3 128.0 713.3 129.8 712.3 131.6C711.3 133.3 710.3 135.1 709.3 136.9C708.3 138.6 707.4 140.4 706.4 142.2C705.5 143.9 704.6 145.7 703.7 147.5C702.8 149.3 702.0 151.1 701.2 152.9C700.4 154.6 699.6 156.4 698.8 158.2C698.0 160.0 697.3 161.8 696.6 163.7C695.9 165.5 695.3 167.3 694.7 169.1C694.1 170.9 693.5 172.8 693.0 174.6C692.5 176.5 692.0 178.3 691.6 180.2C691.1 182.0 690.7 183.9 690.4 185.8C690.1 187.6 689.8 189.5 689.6 191.4C689.4 193.3 689.2 195.2 689.1 197.1C689.0 199.0 688.9 201.0 688.9 202.9C688.9 204.8 689.0 206.8 689.1 208.7C689.3 210.7 689.4 212.7 689.7 214.6C689.9 216.6 690.1 218.6 690.5 220.6C690.8 222.6 691.1 224.5 691.5 226.5C691.9 228.5 692.3 230.5 692.7 232.5C693.2 234.5 693.7 236.5 694.2 238.5C694.7 240.6 695.2 242.6 695.7 244.6C696.3 246.6 696.8 248.6 697.4 250.6C697.9 252.6 698.5 254.6 699.1 256.7C699.7 258.7 700.2 260.7 700.8 262.7C701.4 264.7 702.0 266.7 702.5 268.7C703.1 270.7 703.7 272.6 704.2 274.6C704.7 276.6 705.3 278.6 705.8 280.6C706.3 282.5 706.8 284.5 707.4 286.5C707.9 288.4 708.4 290.4 708.9 292.3C709.4 294.3 709.9 296.2 710.4 298.2C710.9 300.1 711.4 302.0 711.9 303.9C712.4 305.9 712.9 307.8 713.4 309.7C714.0 311.6 714.5 313.5 715.0 315.4C715.6 317.3 716.2 319.2 716.7 321.0C717.3 322.9 717.9 324.8 718.5 326.6C719.1 328.5 719.8 330.4 720.4 332.2C721.1 334.1 721.8 335.9 722.5 337.7C723.2 339.6 723.9 341.4 724.7 343.2C725.5 345.0 726.3 346.8 727.1 348.6C727.9 350.4 728.8 352.2 729.6 354.0C730.5 355.7 731.4 357.5 732.3 359.3C733.3 361.0 734.2 362.7 735.2 364.4C736.2 366.2 737.2 367.9 738.2 369.5C739.3 371.2 740.3 372.9 741.4 374.5C742.5 376.2 743.7 377.8 744.8 379.4C746.0 381.0 747.1 382.6 748.3 384.2C749.5 385.7 750.8 387.3 752.0 388.8C753.3 390.3 754.6 391.8 755.9 393.3C757.2 394.7 758.6 396.2 759.9 397.6C761.3 399.0 762.7 400.4 764.1 401.8C765.6 403.2 767.0 404.5 768.5 405.8C770.0 407.1 771.5 408.4 773.1 409.6C774.6 410.9 776.2 412.1 777.8 413.3C779.4 414.5 781.0 415.6 782.7 416.7C784.3 417.8 786.0 418.9 787.7 420.0C789.4 421.1 791.1 422.1 792.9 423.1C794.6 424.1 796.4 425.1 798.1 426.1C799.9 427.1 801.7 428.0 803.5 429.0C805.3 429.9 807.2 430.8 809.0 431.7C810.8 432.7 812.7 433.6 814.5 434.4C816.4 435.3 818.2 436.2 820.1 437.1C822.0 438.0 823.8 438.8 825.7 439.7C827.6 440.6 829.4 441.4 831.3 442.3C833.2 443.1 835.0 444.0 836.9 444.9C838.8 445.8 840.6 446.6 842.5 447.5C844.3 448.4 846.2 449.3 848.0 450.2C849.8 451.1 851.7 452.0 853.5 452.9C855.3 453.8 857.1 454.8 858.9 455.7C860.7 456.7 862.4 457.6 864.2 458.6C865.9 459.6 867.6 460.6 869.4 461.7C871.0 462.7 872.7 463.8 874.4 464.9C876.0 466.0 877.7 467.1 879.3 468.2C880.9 469.4 882.5 470.6 884.0 471.8C885.5 473.0 887.1 474.3 888.5 475.5C890.0 476.8 891.5 478.2 892.9 479.5C894.3 480.9 895.7 482.3 897.0 483.7C898.3 485.2 899.6 486.7 900.8 488.2C902.1 489.8 903.3 491.4 904.4 493.0C905.6 494.6 906.7 496.3 907.7 498.0C908.7 499.7 909.6 501.5 910.5 503.2C911.3 505.0 912.1 506.8 912.7 508.6C913.3 510.4 913.9 512.3 914.3 514.2C914.7 516.0 915.0 517.9 915.2 519.8C915.3 521.7 915.3 523.6 915.2 525.5C915.1 527.4 914.8 529.3 914.5 531.2C914.2 533.2 913.8 535.1 913.3 537.0C912.8 539.0 912.2 540.9 911.6 542.8C911.0 544.8 910.3 546.7 909.7 548.7C909.0 550.7 908.3 552.6 907.6 554.6C907.0 556.6 906.3 558.5 905.6 560.5C905.0 562.5 904.3 564.5 903.8 566.5C903.2 568.4 902.6 570.4 902.1 572.4C901.6 574.4 901.2 576.3 900.8 578.3C900.4 580.3 900.0 582.2 899.8 584.2C899.5 586.1 899.3 588.0 899.2 590.0C899.1 591.9 899.1 593.8 899.2 595.7C899.2 597.6 899.4 599.4 899.6 601.3C899.9 603.1 900.3 604.9 900.8 606.7C901.3 608.5 901.9 610.3 902.6 612.0C903.3 613.8 904.1 615.5 905.0 617.1C905.9 618.9 906.9 620.5 907.9 622.2C909.0 623.8 910.2 625.4 911.4 627.0C912.6 628.7 913.9 630.3 915.2 631.8C916.5 633.4 917.9 635.0 919.2 636.5C920.7 638.1 922.1 639.6 923.5 641.2C925.0 642.7 926.5 644.3 928.0 645.8C929.5 647.3 931.0 648.8 932.4 650.3C933.9 651.8 935.4 653.4 936.9 654.9C938.3 656.4 939.8 657.9 941.2 659.4C942.6 660.9 944.0 662.4 945.3 664.0C946.7 665.5 948.0 667.0 949.4 668.5C950.7 670.0 952.0 671.5 953.3 673.1C954.6 674.6 955.9 676.1 957.2 677.6C958.5 679.1 959.8 680.6 961.1 682.0C962.3 683.5 963.6 685.0 964.9 686.5C966.1 688.0 967.4 689.4 968.7 690.9C970.0 692.3 971.3 693.8 972.6 695.2C973.9 696.7 975.2 698.1 976.5 699.5C977.8 700.9 979.2 702.3 980.5 703.7C981.9 705.1 983.3 706.5 984.7 707.9C986.1 709.2 987.5 710.6 988.9 711.9C990.4 713.2 991.9 714.6 993.4 715.8C994.9 717.1 996.5 718.4 998.0 719.7C999.6 720.9 1001.2 722.2 1002.9 723.4C1004.6 724.6 1006.3 725.8 1008.0 727.0"/>
<path stroke="#0000ff" d="M652.3 17.0C652.4 19.0 652.5 21.0 652.6 23.0C652.7 25.0 652.8 27.0 652.9 29.0C653.0 31.0 653.0 33.0 653.1 35.0C653.2 37.0 653.3 39.0 653.4 41.0C653.4 43.0 653.5 45.1 653.6 47.1C653.6 49.1 653.7 51.1 653.8 53.1C653.8 55.1 653.9 57.1 654.0 59.1C654.0 61.1 654.1 63.1 654.1 65.1C654.2 67.1 654.2 69.1 654.3 71.2C654.3 73.2 654.4 75.2 654.4 77.2C654.5 79.2 654.5 81.2 654.6 83.2C654.6 85.2 654.6 87.2 654.7 89.2C654.7 91.3 654.8 93.3 654.8 95.3C654.8 97.3 654.9 99.3 654.9 101.3C654.9 103.3 655.0 105.3 655.0 107.4C655.0 109.4 655.1 111.4 655.1 113.4C655.1 115.4 655.2 117.4 655.2 119.4C655.2 121.4 655.3 123.5 655.3 125.5C655.3 127.5 655.3 129.5 655.4 131.5C655.4 133.5 655.4 135.5 655.5 137.6C655.5 139.6 655.5 141.6 655.6 143.6C655.6 145.6 655.6 147.6 655.6 149.6C655.7 151.6 655.7 153.7 655.7 155.7C655.8 157.7 655.8 159.7 655.8 161.7C655.9 163.7 655.9 165.7 655.9 167.8C656.0 169.8 656.0 171.8 656.1 173.8C656.1 175.8 656.1 177.8 656.2 179.8C656.2 181.9 656.3 183.9 656.3 185.9C656.4 187.9 656.4 189.9 656.4 191.9C656.5 193.9 656.5 195.9 656.6 198.0C656.7 200.0 656.7 202.0 656.8 204.0C656.8 206.0 656.9 208.0 656.9 210.0C657.0 212.0 657.1 214.1 657.1 216.1C657.2 218.1 657.3 220.1 657.3 222.1C657.4 224.1 657.5 226.1 657.6 228.1C657.7 230.1 657.7 232.1 657.8 234.2C657.9 236.2 658.0 238.2 658.1 240.2C658.2 242.2 658.3 244.2 658.4 246.2C658.5 248.2 658.6 250.2 658.7 252.2C658.8 254.2 658.9 256.2 659.0 258.3C659.1 260.3 659.3 262.3 659.4 264.3C659.5 266.3 659.6 268.3 659.8 270.3C659.9 272.3 660.0 274.3 660.2 276.3C660.3 278.3 660.5 280.3 660.6 282.3C660.8 284.3 660.9 286.3 661.1 288.3C661.2 290.3 661.4 292.3 661.6 294.3C661.8 296.3 661.9 298.3 662.1 300.3C662.3 302.3 662.5 304.3 662.7 306.3C662.9 308.3 663.1 310.3 663.3 312.3C663.5 314.3 663.7 316.3 663.9 318.3C664.1 320.3 664.4 322.3 664.6 324.3C664.8 326.3 665.1 328.3 665.3 330.3C665.5 332.3 665.8 334.3 666.1 336.2C666.3 338.2 666.6 340.2 666.9 342.2C667.1 344.2 667.4 346.2 667.7 348.2C668.0 350.1 668.3 352.1 668.6 354.1C669.0 356.1 669.3 358.1 669.7 360.0C670.0 362.0 670.4 364.0 670.7 365.9C671.1 367.9 671.5 369.9 671.9 371.8C672.3 373.8 672.7 375.7 673.2 377.7C673.6 379.6 674.1 381.6 674.6 383.5C675.0 385.4 675.5 387.4 676.1 389.3C676.6 391.2 677.1 393.2 677.7 395.1C678.2 397.0 678.8 398.9 679.4 400.8C680.0 402.7 680.6 404.6 681.3 406.5C681.9 408.4 682.6 410.3 683.3 412.1C684.0 414.0 684.7 415.9 685.5 417.7C686.2 419.6 687.0 421.5 687.8 423.3C688.6 425.2 689.4 427.0 690.3 428.8C691.2 430.7 692.1 432.5 693.0 434.3C693.9 436.1 694.8 437.9 695.7 439.7C696.6 441.5 697.6 443.3 698.5 445.1C699.4 446.9 700.4 448.7 701.3 450.5C702.2 452.3 703.2 454.1 704.1 456.0C705.0 457.8 705.9 459.6 706.7 461.4C707.6 463.2 708.4 465.0 709.2 466.9C710.0 468.7 710.8 470.5 711.5 472.4C712.2 474.2 712.9 476.1 713.6 478.0C714.2 479.8 714.8 481.7 715.3 483.6C715.8 485.5 716.3 487.4 716.8 489.3C717.2 491.3 717.6 493.2 718.0 495.1C718.3 497.1 718.6 499.0 718.9 501.0C719.2 502.9 719.4 504.9 719.7 506.9C719.9 508.9 720.1 510.8 720.2 512.8C720.4 514.8 720.5 516.8 720.6 518.8C720.8 520.8 720.9 522.8 720.9 524.8C721.0 526.8 721.1 528.8 721.1 530.9C721.2 532.9 721.2 534.9 721.2 536.9C721.3 538.9 721.3 541.0 721.3 543.0C721.3 545.0 721.3 547.0 721.4 549.1C721.4 551.1 721.4 553.1 721.4 555.2C721.5 557.2 721.5 559.2 721.5 561.2C721.6 563.2 721.6 565.3 721.7 567.3C721.8 569.3 721.8 571.3 721.9 573.3C722.0 575.3 722.2 577.3 722.3 579.3C722.4 581.3 722.6 583.3 722.8 585.3C723.0 587.3 723.2 589.3 723.5 591.2C723.8 593.2 724.0 595.2 724.4 597.1C724.7 599.1 725.1 601.0 725.5 603.0C725.9 604.9 726.3 606.8 726.8 608.7C727.3 610.6 727.9 612.5 728.5 614.4C729.1 616.3 729.7 618.2 730.4 620.1C731.1 621.9 731.9 623.8 732.7 625.6C733.5 627.5 734.4 629.3 735.2 631.1C736.1 633.0 737.0 634.8 737.9 636.6C738.9 638.4 739.8 640.2 740.8 642.0C741.7 643.8 742.7 645.6 743.6 647.4C744.6 649.3 745.5 651.1 746.5 652.9C747.4 654.7 748.4 656.5 749.3 658.4C750.2 660.2 751.0 662.0 751.9 663.9C752.7 665.7 753.5 667.6 754.3 669.4C755.1 671.3 755.9 673.2 756.7 675.0C757.5 676.9 758.2 678.8 758.9 680.6C759.7 682.5 760.4 684.4 761.2 686.2C761.9 688.1 762.6 690.0 763.3 691.8C764.1 693.7 764.8 695.5 765.6 697.4C766.3 699.2 767.0 701.1 767.8 702.9C768.6 704.7 769.4 706.6 770.2 708.4C771.0 710.2 771.8 712.0 772.7 713.7C773.6 715.5 774.5 717.3 775.5 719.0C776.5 720.7 777.5 722.4 778.6 724.1C779.7 725.8 780.9 727.4 782.0 729.0"/>
<path stroke="#0000ff" stroke-dasharray="11 19.5" stroke-dashoffset="24.9" d="M656.0 19.5C656.1 21.5 656.2 23.5 656.2 25.6C656.3 27.6 656.4 29.6 656.4 31.6C656.5 33.6 656.6 35.6 656.6 37.6C656.7 39.7 656.7 41.7 656.8 43.7C656.8 45.7 656.9 47.7 656.9 49.7C656.9 51.7 657.0 53.7 657.0 55.8C657.0 57.8 657.1 59.8 657.1 61.8C657.1 63.8 657.2 65.8 657.2 67.8C657.2 69.8 657.2 71.8 657.2 73.8C657.2 75.8 657.2 77.9 657.3 79.9C657.3 81.9 657.3 83.9 657.3 85.9C657.3 87.9 657.3 89.9 657.3 91.9C657.3 93.9 657.3 95.9 657.3 97.9C657.3 99.9 657.3 101.9 657.3 103.9C657.2 105.9 657.2 108.0 657.2 110.0C657.2 112.0 657.2 114.0 657.2 116.0C657.2 118.0 657.2 120.0 657.2 122.0C657.1 124.0 657.1 126.0 657.1 128.0C657.1 130.0 657.1 132.0 657.0 134.0C657.0 136.0 657.0 138.0 657.0 140.0C657.0 142.0 657.0 144.0 656.9 146.1C656.9 148.1 656.9 150.1 656.9 152.1C656.9 154.1 656.8 156.1 656.8 158.1C656.8 160.1 656.8 162.1 656.8 164.1C656.8 166.1 656.7 168.1 656.7 170.1C656.7 172.1 656.7 174.1 656.7 176.1C656.7 178.2 656.7 180.2 656.7 182.2C656.6 184.2 656.6 186.2 656.6 188.2C656.6 190.2 656.6 192.2 656.6 194.2C656.6 196.2 656.6 198.2 656.6 200.2C656.6 202.3 656.6 204.3 656.6 206.3C656.6 208.3 656.6 210.3 656.6 212.3C656.6 214.3 656.7 216.3 656.7 218.4C656.7 220.4 656.7 222.4 656.7 224.4C656.7 226.4 656.8 228.4 656.8 230.4C656.8 232.5 656.9 234.5 656.9 236.5C656.9 238.5 657.0 240.5 657.0 242.5C657.0 244.6 657.1 246.6 657.1 248.6C657.2 250.6 657.2 252.6 657.3 254.7C657.4 256.7 657.4 258.7 657.5 260.7C657.6 262.7 657.6 264.8 657.7 266.8C657.8 268.8 657.9 270.8 658.0 272.8C658.0 274.9 658.1 276.9 658.2 278.9C658.3 280.9 658.5 283.0 658.6 285.0C658.7 287.0 658.8 289.0 658.9 291.0C659.1 293.0 659.2 295.1 659.4 297.1C659.5 299.1 659.7 301.1 659.8 303.1C660.0 305.1 660.2 307.2 660.3 309.2C660.5 311.2 660.7 313.2 660.9 315.2C661.1 317.2 661.3 319.2 661.5 321.2C661.8 323.2 662.0 325.2 662.2 327.2C662.5 329.2 662.7 331.2 663.0 333.2C663.3 335.2 663.5 337.2 663.8 339.2C664.1 341.1 664.4 343.1 664.7 345.1C665.0 347.1 665.4 349.1 665.7 351.0C666.1 353.0 666.4 355.0 666.8 357.0C667.1 358.9 667.5 360.9 667.9 362.9C668.3 364.8 668.7 366.8 669.1 368.7C669.6 370.7 670.0 372.6 670.5 374.6C670.9 376.5 671.4 378.4 671.9 380.4C672.4 382.3 672.9 384.2 673.4 386.2C674.0 388.1 674.5 390.0 675.1 391.9C675.7 393.8 676.2 395.7 676.9 397.6C677.5 399.5 678.1 401.4 678.8 403.3C679.4 405.2 680.1 407.1 680.8 409.0C681.5 410.8 682.2 412.7 683.0 414.6C683.7 416.4 684.4 418.3 685.2 420.2C686.0 422.0 686.7 423.9 687.5 425.7C688.3 427.6 689.1 429.4 689.9 431.3C690.7 433.2 691.5 435.0 692.2 436.9C693.0 438.7 693.8 440.6 694.6 442.4C695.4 444.3 696.2 446.1 696.9 448.0C697.7 449.9 698.4 451.7 699.2 453.6C699.9 455.5 700.7 457.3 701.4 459.2C702.1 461.1 702.8 463.0 703.5 464.8C704.2 466.7 704.9 468.6 705.5 470.5C706.2 472.4 706.8 474.3 707.4 476.2C708.0 478.1 708.6 480.0 709.2 481.9C709.7 483.8 710.3 485.7 710.8 487.7C711.3 489.6 711.8 491.5 712.2 493.4C712.7 495.4 713.1 497.3 713.5 499.3C713.9 501.2 714.2 503.2 714.6 505.1C714.9 507.1 715.2 509.0 715.4 511.0C715.7 513.0 715.9 515.0 716.1 517.0C716.3 518.9 716.5 520.9 716.7 522.9C716.8 524.9 716.9 526.9 717.1 528.9C717.2 530.9 717.3 532.9 717.3 534.9C717.4 536.9 717.5 538.9 717.5 541.0C717.6 543.0 717.6 545.0 717.6 547.0C717.7 549.0 717.7 551.0 717.7 553.1C717.7 555.1 717.7 557.1 717.7 559.1C717.7 561.2 717.7 563.2 717.8 565.2C717.8 567.2 717.8 569.2 717.8 571.3C717.8 573.3 717.9 575.3 717.9 577.3C718.0 579.3 718.0 581.4 718.1 583.4C718.1 585.4 718.2 587.4 718.3 589.4C718.4 591.4 718.6 593.4 718.7 595.4C718.8 597.4 719.0 599.4 719.2 601.4C719.4 603.4 719.6 605.4 719.8 607.4C720.1 609.3 720.4 611.3 720.7 613.3C721.0 615.3 721.3 617.2 721.7 619.2C722.1 621.1 722.5 623.1 722.9 625.0C723.3 627.0 723.8 628.9 724.2 630.9C724.7 632.8 725.2 634.8 725.7 636.7C726.2 638.6 726.8 640.6 727.3 642.5C727.9 644.4 728.4 646.3 729.0 648.2C729.6 650.2 730.2 652.1 730.9 654.0C731.5 655.9 732.1 657.8 732.8 659.7C733.4 661.6 734.1 663.6 734.7 665.5C735.4 667.4 736.0 669.3 736.7 671.2C737.4 673.1 738.1 675.0 738.7 676.9C739.4 678.8 740.1 680.7 740.7 682.6C741.4 684.5 742.1 686.4 742.7 688.4C743.4 690.3 744.0 692.2 744.6 694.1C745.3 696.0 745.9 697.9 746.5 699.9C747.1 701.8 747.7 703.7 748.3 705.6C748.8 707.6 749.4 709.5 749.9 711.4C750.5 713.4 751.0 715.3 751.4 717.3C751.9 719.2 752.4 721.1 752.8 723.1C753.2 725.1 753.6 727.0 754.0 729.0"/>
<path stroke="#0000ff" stroke-dasharray="2.2 17.3" stroke-dashoffset="13.3" stroke-width="3.9" d="M656.0 19.5C657.0 21.3 658.1 23.0 659.0 24.8C659.9 26.5 660.7 28.3 661.4 30.2C662.1 32.0 662.7 33.8 663.2 35.7C663.7 37.5 664.2 39.4 664.6 41.3C664.9 43.2 665.2 45.1 665.5 47.0C665.7 49.0 665.9 50.9 666.1 52.8C666.2 54.8 666.3 56.7 666.4 58.7C666.4 60.6 666.4 62.6 666.4 64.6C666.4 66.5 666.4 68.5 666.3 70.5C666.3 72.5 666.2 74.5 666.1 76.4C666.1 78.4 666.0 80.4 665.9 82.4C665.8 84.4 665.7 86.4 665.6 88.4C665.5 90.4 665.4 92.3 665.3 94.3C665.2 96.3 665.1 98.3 664.9 100.3C664.8 102.3 664.7 104.3 664.6 106.3C664.4 108.3 664.3 110.3 664.2 112.3C664.0 114.3 663.9 116.2 663.8 118.2C663.6 120.2 663.5 122.2 663.3 124.2C663.2 126.2 663.0 128.2 662.9 130.2C662.7 132.2 662.6 134.2 662.4 136.2C662.3 138.2 662.1 140.2 662.0 142.2C661.8 144.2 661.7 146.2 661.5 148.2C661.4 150.2 661.2 152.2 661.1 154.2C660.9 156.2 660.8 158.2 660.6 160.2C660.5 162.2 660.3 164.2 660.2 166.2C660.1 168.2 659.9 170.2 659.8 172.2C659.6 174.2 659.5 176.2 659.4 178.2C659.2 180.2 659.1 182.2 659.0 184.2C658.8 186.2 658.7 188.2 658.6 190.2C658.5 192.2 658.4 194.2 658.3 196.2C658.1 198.2 658.0 200.2 657.9 202.2C657.8 204.2 657.7 206.3 657.6 208.3C657.5 210.3 657.4 212.3 657.3 214.3C657.2 216.3 657.2 218.3 657.1 220.3C657.0 222.3 656.9 224.3 656.8 226.3C656.8 228.3 656.7 230.3 656.6 232.3C656.5 234.3 656.5 236.3 656.4 238.3C656.3 240.3 656.3 242.3 656.2 244.3C656.2 246.3 656.1 248.3 656.1 250.3C656.0 252.3 656.0 254.3 655.9 256.3C655.9 258.3 655.9 260.3 655.8 262.3C655.8 264.3 655.8 266.3 655.7 268.3C655.7 270.3 655.7 272.3 655.7 274.3C655.7 276.3 655.6 278.3 655.6 280.4C655.6 282.4 655.6 284.4 655.6 286.4C655.6 288.4 655.6 290.4 655.6 292.4C655.6 294.4 655.6 296.4 655.6 298.4C655.7 300.4 655.7 302.4 655.7 304.4C655.7 306.4 655.7 308.4 655.8 310.4C655.8 312.4 655.8 314.4 655.9 316.4C655.9 318.4 656.0 320.4 656.0 322.4C656.0 324.4 656.1 326.4 656.1 328.4C656.2 330.4 656.3 332.4 656.3 334.4C656.4 336.4 656.4 338.4 656.5 340.4C656.6 342.4 656.7 344.4 656.7 346.4C656.8 348.4 656.9 350.4 657.0 352.4C657.1 354.4 657.1 356.3 657.2 358.3C657.3 360.3 657.4 362.3 657.5 364.3C657.6 366.3 657.7 368.3 657.9 370.3C658.0 372.3 658.1 374.3 658.2 376.3C658.3 378.3 658.4 380.3 658.6 382.3C658.7 384.3 658.8 386.3 659.0 388.3C659.1 390.3 659.3 392.3 659.4 394.3C659.5 396.3 659.7 398.3 659.8 400.2C660.0 402.2 660.2 404.2 660.3 406.2C660.5 408.2 660.7 410.2 660.8 412.2C661.0 414.2 661.2 416.2 661.4 418.2C661.5 420.2 661.7 422.1 661.9 424.1C662.1 426.1 662.3 428.1 662.5 430.1C662.7 432.1 662.9 434.1 663.1 436.1C663.3 438.1 663.5 440.0 663.7 442.0C664.0 444.0 664.2 446.0 664.4 448.0C664.6 450.0 664.9 452.0 665.1 454.0C665.3 455.9 665.6 457.9 665.8 459.9C666.1 461.9 666.3 463.9 666.5 465.9C666.8 467.8 667.1 469.8 667.3 471.8C667.6 473.8 667.8 475.8 668.1 477.8C668.3 479.7 668.6 481.7 668.8 483.7C669.1 485.7 669.4 487.7 669.6 489.7C669.9 491.6 670.1 493.6 670.4 495.6C670.6 497.6 670.9 499.6 671.1 501.6C671.4 503.5 671.6 505.5 671.8 507.5C672.1 509.5 672.3 511.5 672.5 513.5C672.8 515.5 673.0 517.4 673.2 519.4C673.4 521.4 673.6 523.4 673.8 525.4C674.0 527.4 674.2 529.4 674.4 531.4C674.6 533.4 674.8 535.4 675.0 537.3C675.1 539.3 675.3 541.3 675.5 543.3C675.6 545.3 675.8 547.3 675.9 549.3C676.1 551.3 676.2 553.3 676.4 555.3C676.5 557.3 676.7 559.3 676.8 561.3C677.0 563.3 677.1 565.3 677.3 567.3C677.4 569.3 677.6 571.3 677.7 573.2C677.9 575.2 678.0 577.2 678.2 579.2C678.4 581.2 678.5 583.2 678.7 585.2C678.9 587.2 679.0 589.2 679.2 591.2C679.4 593.2 679.6 595.2 679.8 597.2C680.0 599.1 680.2 601.1 680.4 603.1C680.6 605.1 680.9 607.1 681.1 609.1C681.3 611.1 681.6 613.1 681.8 615.0C682.1 617.0 682.4 619.0 682.7 621.0C683.0 623.0 683.2 624.9 683.6 626.9C683.9 628.9 684.2 630.9 684.5 632.8C684.9 634.8 685.2 636.8 685.6 638.7C685.9 640.7 686.3 642.6 686.7 644.6C687.1 646.6 687.5 648.5 688.0 650.5C688.4 652.4 688.8 654.4 689.3 656.3C689.7 658.2 690.2 660.2 690.7 662.1C691.2 664.0 691.7 666.0 692.2 667.9C692.7 669.8 693.3 671.7 693.9 673.6C694.4 675.5 695.0 677.4 695.6 679.3C696.2 681.2 696.8 683.1 697.5 685.0C698.1 686.9 698.8 688.8 699.4 690.7C700.1 692.6 700.8 694.4 701.5 696.3C702.3 698.1 703.0 700.0 703.8 701.9C704.5 703.7 705.3 705.5 706.1 707.4C706.9 709.2 707.8 711.0 708.6 712.9C709.5 714.7 710.4 716.5 711.3 718.3C712.2 720.1 713.1 721.9 714.1 723.7C715.0 725.5 716.0 727.2 717.0 729.0"/>
<path stroke="#ff0000" stroke-width="3.9" d="M653.6 17.0C653.8 19.0 654.1 21.0 654.3 23.0C654.5 25.0 654.7 26.9 654.9 28.9C655.1 30.9 655.3 32.9 655.5 34.9C655.7 36.9 655.8 38.9 656.0 40.9C656.2 42.9 656.3 44.9 656.5 46.9C656.6 48.9 656.8 50.9 656.9 52.9C657.1 54.9 657.2 56.9 657.3 58.9C657.5 60.9 657.6 62.9 657.7 64.9C657.8 66.9 657.9 68.9 658.0 70.9C658.2 72.9 658.3 74.9 658.3 76.9C658.4 78.9 658.5 80.9 658.6 83.0C658.7 85.0 658.8 87.0 658.9 89.0C658.9 91.0 659.0 93.0 659.1 95.0C659.1 97.0 659.2 99.0 659.3 101.1C659.3 103.1 659.4 105.1 659.4 107.1C659.5 109.1 659.5 111.1 659.5 113.1C659.6 115.2 659.6 117.2 659.7 119.2C659.7 121.2 659.7 123.2 659.8 125.2C659.8 127.3 659.8 129.3 659.8 131.3C659.9 133.3 659.9 135.3 659.9 137.4C659.9 139.4 659.9 141.4 659.9 143.4C660.0 145.4 660.0 147.4 660.0 149.5C660.0 151.5 660.0 153.5 660.0 155.5C660.0 157.5 660.0 159.6 660.0 161.6C660.0 163.6 660.0 165.6 660.0 167.6C660.0 169.7 660.0 171.7 660.0 173.7C660.0 175.7 660.0 177.7 660.0 179.8C660.0 181.8 660.0 183.8 660.0 185.8C660.0 187.8 660.0 189.9 660.0 191.9C660.0 193.9 660.0 195.9 660.0 197.9C660.0 200.0 660.0 202.0 660.0 204.0C660.1 206.0 660.1 208.0 660.1 210.1C660.1 212.1 660.1 214.1 660.1 216.1C660.1 218.1 660.1 220.1 660.1 222.2C660.1 224.2 660.1 226.2 660.1 228.2C660.2 230.2 660.2 232.2 660.2 234.2C660.2 236.3 660.2 238.3 660.3 240.3C660.3 242.3 660.3 244.3 660.4 246.3C660.4 248.3 660.4 250.3 660.5 252.4C660.5 254.4 660.5 256.4 660.6 258.4C660.6 260.4 660.7 262.4 660.7 264.4C660.8 266.4 660.8 268.4 660.9 270.4C660.9 272.4 661.0 274.4 661.1 276.4C661.1 278.4 661.2 280.4 661.3 282.4C661.4 284.4 661.5 286.4 661.5 288.4C661.6 290.4 661.7 292.4 661.8 294.4C661.9 296.4 662.0 298.4 662.1 300.4C662.2 302.4 662.4 304.4 662.5 306.4C662.6 308.4 662.7 310.4 662.9 312.4C663.0 314.4 663.1 316.3 663.3 318.3C663.4 320.3 663.6 322.3 663.7 324.3C663.9 326.3 664.1 328.3 664.3 330.2C664.4 332.2 664.6 334.2 664.8 336.2C665.0 338.2 665.2 340.1 665.4 342.1C665.6 344.1 665.8 346.1 666.1 348.0C666.3 350.0 666.5 352.0 666.8 353.9C667.1 355.9 667.3 357.9 667.6 359.8C667.9 361.8 668.2 363.8 668.5 365.7C668.8 367.7 669.2 369.6 669.5 371.6C669.8 373.6 670.2 375.5 670.6 377.5C671.0 379.4 671.4 381.4 671.8 383.3C672.2 385.3 672.6 387.2 673.1 389.1C673.5 391.1 674.0 393.0 674.5 395.0C675.0 396.9 675.5 398.8 676.0 400.8C676.6 402.7 677.2 404.6 677.7 406.5C678.3 408.5 678.9 410.4 679.6 412.3C680.2 414.2 680.9 416.1 681.5 418.1C682.2 420.0 682.9 421.9 683.7 423.8C684.4 425.7 685.2 427.6 686.0 429.5C686.8 431.4 687.6 433.3 688.4 435.2C689.2 437.1 690.1 439.0 690.9 440.9C691.7 442.8 692.6 444.7 693.4 446.5C694.2 448.4 695.1 450.3 695.9 452.2C696.7 454.1 697.4 456.0 698.2 457.9C698.9 459.8 699.7 461.6 700.3 463.6C701.0 465.4 701.6 467.3 702.2 469.2C702.8 471.1 703.3 473.0 703.7 474.9C704.2 476.8 704.6 478.7 704.9 480.6C705.2 482.5 705.4 484.4 705.6 486.4C705.8 488.3 705.9 490.2 705.9 492.1C706.0 494.0 706.0 496.0 705.9 497.9C705.8 499.8 705.7 501.7 705.5 503.7C705.3 505.6 705.1 507.5 704.9 509.5C704.6 511.4 704.3 513.3 703.9 515.3C703.6 517.2 703.2 519.2 702.7 521.1C702.3 523.0 701.9 525.0 701.4 526.9C700.9 528.9 700.4 530.8 699.9 532.8C699.3 534.8 698.8 536.7 698.2 538.7C697.6 540.6 697.0 542.6 696.4 544.5C695.8 546.5 695.2 548.5 694.6 550.4C694.0 552.4 693.4 554.4 692.8 556.3C692.1 558.3 691.5 560.3 690.9 562.2C690.3 564.2 689.7 566.2 689.1 568.1C688.5 570.1 687.9 572.1 687.3 574.1C686.8 576.0 686.2 578.0 685.7 580.0C685.2 582.0 684.7 583.9 684.2 585.9C683.7 587.9 683.3 589.9 682.9 591.9C682.4 593.8 682.1 595.8 681.7 597.8C681.3 599.8 681.0 601.8 680.7 603.7C680.4 605.7 680.2 607.7 679.9 609.7C679.7 611.7 679.4 613.7 679.2 615.6C679.0 617.6 678.9 619.6 678.7 621.6C678.5 623.6 678.4 625.6 678.2 627.5C678.1 629.5 678.0 631.5 677.9 633.5C677.8 635.5 677.7 637.5 677.6 639.5C677.5 641.5 677.4 643.4 677.3 645.4C677.2 647.4 677.1 649.4 677.0 651.4C677.0 653.4 676.9 655.4 676.8 657.4C676.7 659.3 676.6 661.3 676.5 663.3C676.4 665.3 676.3 667.3 676.2 669.3C676.1 671.3 676.0 673.3 675.9 675.3C675.8 677.3 675.6 679.2 675.5 681.2C675.3 683.2 675.1 685.2 674.9 687.2C674.7 689.2 674.5 691.2 674.3 693.2C674.1 695.2 673.8 697.2 673.5 699.1C673.3 701.1 672.9 703.1 672.6 705.1C672.3 707.1 671.9 709.1 671.5 711.1C671.1 713.1 670.7 715.1 670.2 717.1C669.8 719.1 669.3 721.0 668.7 723.0C668.2 725.0 667.6 727.0 667.0 729.0"/>
<path stroke="#ff0000" stroke-dasharray="11 19.5" stroke-dashoffset="20.9" d="M693.2 19.5C693.1 21.5 693.0 23.5 692.9 25.6C692.8 27.6 692.7 29.6 692.5 31.6C692.3 33.6 692.1 35.6 691.9 37.6C691.7 39.6 691.5 41.6 691.2 43.6C691.0 45.5 690.7 47.5 690.4 49.5C690.1 51.5 689.8 53.5 689.4 55.4C689.1 57.4 688.7 59.4 688.4 61.3C688.0 63.3 687.6 65.3 687.2 67.2C686.8 69.2 686.4 71.1 686.0 73.1C685.6 75.0 685.1 77.0 684.7 78.9C684.2 80.9 683.8 82.8 683.3 84.8C682.8 86.7 682.4 88.7 681.9 90.6C681.4 92.6 680.9 94.5 680.4 96.4C679.9 98.4 679.4 100.3 678.9 102.3C678.4 104.2 677.9 106.1 677.4 108.1C676.9 110.0 676.4 111.9 675.9 113.9C675.4 115.8 674.8 117.7 674.3 119.7C673.8 121.6 673.3 123.5 672.8 125.5C672.3 127.4 671.8 129.3 671.3 131.3C670.8 133.2 670.3 135.2 669.8 137.1C669.4 139.0 668.9 141.0 668.4 142.9C667.9 144.9 667.5 146.8 667.0 148.7C666.6 150.7 666.1 152.6 665.7 154.6C665.3 156.5 664.9 158.5 664.5 160.4C664.1 162.4 663.7 164.3 663.3 166.3C662.9 168.3 662.6 170.2 662.2 172.2C661.9 174.2 661.6 176.1 661.2 178.1C660.9 180.1 660.6 182.0 660.4 184.0C660.1 186.0 659.8 188.0 659.6 189.9C659.3 191.9 659.1 193.9 658.8 195.9C658.6 197.9 658.4 199.8 658.2 201.8C658.0 203.8 657.8 205.8 657.6 207.8C657.5 209.8 657.3 211.8 657.2 213.8C657.0 215.8 656.9 217.8 656.8 219.8C656.6 221.8 656.5 223.8 656.4 225.8C656.3 227.8 656.2 229.8 656.2 231.8C656.1 233.8 656.0 235.8 656.0 237.8C655.9 239.8 655.9 241.8 655.8 243.8C655.8 245.8 655.8 247.8 655.8 249.8C655.8 251.9 655.8 253.9 655.8 255.9C655.8 257.9 655.8 259.9 655.8 261.9C655.9 263.9 655.9 265.9 656.0 267.9C656.0 270.0 656.1 272.0 656.1 274.0C656.2 276.0 656.3 278.0 656.3 280.0C656.4 282.0 656.5 284.1 656.6 286.1C656.7 288.1 656.8 290.1 656.9 292.1C657.1 294.1 657.2 296.1 657.3 298.1C657.4 300.2 657.6 302.2 657.7 304.2C657.8 306.2 658.0 308.2 658.2 310.2C658.3 312.2 658.5 314.2 658.6 316.2C658.8 318.3 659.0 320.3 659.2 322.3C659.3 324.3 659.5 326.3 659.7 328.3C659.9 330.3 660.1 332.3 660.3 334.3C660.5 336.3 660.7 338.3 660.9 340.3C661.1 342.3 661.3 344.3 661.6 346.3C661.8 348.3 662.0 350.3 662.2 352.3C662.4 354.3 662.7 356.3 662.9 358.3C663.1 360.3 663.4 362.3 663.6 364.2C663.9 366.2 664.1 368.2 664.4 370.2C664.6 372.2 664.9 374.2 665.1 376.2C665.4 378.2 665.6 380.2 665.9 382.1C666.1 384.1 666.4 386.1 666.7 388.1C666.9 390.1 667.2 392.1 667.5 394.0C667.7 396.0 668.0 398.0 668.3 400.0C668.5 402.0 668.8 404.0 669.1 405.9C669.4 407.9 669.6 409.9 669.9 411.9C670.2 413.9 670.5 415.8 670.8 417.8C671.1 419.8 671.3 421.8 671.6 423.8C671.9 425.7 672.2 427.7 672.5 429.7C672.8 431.7 673.0 433.7 673.3 435.7C673.6 437.6 673.9 439.6 674.2 441.6C674.4 443.6 674.7 445.6 675.0 447.5C675.2 449.5 675.5 451.5 675.7 453.5C676.0 455.5 676.2 457.5 676.5 459.4C676.7 461.4 677.0 463.4 677.2 465.4C677.4 467.4 677.6 469.4 677.8 471.4C678.0 473.3 678.2 475.3 678.4 477.3C678.6 479.3 678.7 481.3 678.9 483.3C679.0 485.3 679.2 487.3 679.3 489.3C679.4 491.2 679.6 493.2 679.7 495.2C679.8 497.2 679.8 499.2 679.9 501.2C680.0 503.2 680.0 505.2 680.1 507.2C680.1 509.2 680.2 511.2 680.2 513.2C680.2 515.2 680.2 517.2 680.2 519.2C680.2 521.2 680.2 523.2 680.1 525.2C680.1 527.2 680.1 529.2 680.0 531.2C680.0 533.2 679.9 535.2 679.8 537.2C679.7 539.2 679.7 541.2 679.6 543.2C679.5 545.2 679.4 547.2 679.3 549.2C679.2 551.2 679.0 553.2 678.9 555.2C678.8 557.2 678.6 559.2 678.5 561.2C678.4 563.2 678.2 565.2 678.0 567.2C677.9 569.2 677.7 571.2 677.5 573.2C677.4 575.2 677.2 577.1 677.0 579.1C676.8 581.1 676.6 583.1 676.4 585.1C676.2 587.1 676.0 589.1 675.8 591.1C675.6 593.1 675.4 595.1 675.2 597.1C675.0 599.1 674.8 601.1 674.6 603.1C674.3 605.1 674.1 607.1 673.9 609.1C673.7 611.1 673.5 613.1 673.2 615.1C673.0 617.1 672.8 619.1 672.5 621.1C672.3 623.1 672.1 625.1 671.9 627.1C671.6 629.1 671.4 631.1 671.2 633.1C670.9 635.1 670.7 637.1 670.5 639.1C670.3 641.0 670.0 643.0 669.8 645.0C669.6 647.0 669.4 649.0 669.2 651.0C668.9 653.0 668.7 655.0 668.5 657.0C668.3 659.0 668.1 661.0 667.9 663.0C667.7 665.0 667.5 667.0 667.3 669.0C667.1 671.0 667.0 673.0 666.8 675.0C666.6 677.0 666.4 679.0 666.3 681.0C666.1 683.0 665.9 685.0 665.8 687.0C665.6 689.0 665.5 691.0 665.4 693.0C665.2 695.0 665.1 697.0 665.0 699.0C664.9 701.0 664.8 703.0 664.7 705.0C664.6 707.0 664.5 709.0 664.4 711.0C664.3 713.0 664.2 715.0 664.2 717.0C664.1 719.0 664.1 721.0 664.1 723.0C664.0 725.0 664.0 727.0 664.0 729.0"/>
<path stroke="#ff0000" stroke-dasharray="2.2 17.3" stroke-dashoffset="2.5" stroke-width="3.9" d="M686.5 19.5C686.1 21.5 685.6 23.4 685.2 25.4C684.8 27.4 684.3 29.3 683.9 31.3C683.4 33.3 683.0 35.2 682.5 37.2C682.1 39.2 681.6 41.1 681.1 43.1C680.7 45.0 680.2 47.0 679.7 49.0C679.3 50.9 678.8 52.9 678.3 54.9C677.9 56.8 677.4 58.8 676.9 60.7C676.5 62.7 676.0 64.7 675.5 66.6C675.1 68.6 674.6 70.6 674.1 72.5C673.7 74.5 673.2 76.4 672.8 78.4C672.3 80.4 671.9 82.3 671.4 84.3C671.0 86.3 670.5 88.2 670.1 90.2C669.7 92.2 669.2 94.1 668.8 96.1C668.4 98.1 668.0 100.0 667.6 102.0C667.2 104.0 666.8 106.0 666.4 107.9C666.0 109.9 665.6 111.9 665.3 113.9C664.9 115.8 664.5 117.8 664.2 119.8C663.8 121.8 663.5 123.7 663.1 125.7C662.8 127.7 662.4 129.7 662.1 131.7C661.8 133.6 661.5 135.6 661.2 137.6C660.9 139.6 660.6 141.6 660.3 143.6C660.0 145.5 659.7 147.5 659.5 149.5C659.2 151.5 659.0 153.5 658.7 155.5C658.5 157.5 658.2 159.5 658.0 161.5C657.8 163.5 657.6 165.5 657.4 167.4C657.2 169.4 657.0 171.4 656.8 173.4C656.7 175.4 656.5 177.4 656.3 179.4C656.2 181.4 656.0 183.4 655.9 185.4C655.8 187.4 655.6 189.5 655.5 191.5C655.4 193.5 655.3 195.5 655.2 197.5C655.1 199.5 655.0 201.5 654.9 203.5C654.8 205.5 654.8 207.5 654.7 209.5C654.6 211.5 654.6 213.6 654.5 215.6C654.5 217.6 654.4 219.6 654.4 221.6C654.4 223.6 654.4 225.6 654.3 227.6C654.3 229.7 654.3 231.7 654.3 233.7C654.3 235.7 654.3 237.7 654.3 239.7C654.3 241.8 654.3 243.8 654.3 245.8C654.4 247.8 654.4 249.8 654.4 251.9C654.4 253.9 654.5 255.9 654.5 257.9C654.6 259.9 654.6 262.0 654.7 264.0C654.7 266.0 654.8 268.0 654.8 270.0C654.9 272.1 654.9 274.1 655.0 276.1C655.1 278.1 655.1 280.1 655.2 282.2C655.3 284.2 655.3 286.2 655.4 288.2C655.5 290.3 655.6 292.3 655.7 294.3C655.7 296.3 655.8 298.3 655.9 300.4C656.0 302.4 656.1 304.4 656.2 306.4C656.3 308.5 656.4 310.5 656.4 312.5C656.5 314.5 656.6 316.5 656.7 318.6C656.8 320.6 656.9 322.6 657.0 324.6C657.1 326.6 657.2 328.7 657.3 330.7C657.4 332.7 657.5 334.7 657.6 336.7C657.7 338.8 657.7 340.8 657.8 342.8C657.9 344.8 658.0 346.8 658.1 348.8C658.2 350.9 658.3 352.9 658.4 354.9C658.5 356.9 658.5 358.9 658.6 360.9C658.7 362.9 658.8 365.0 658.9 367.0C659.0 369.0 659.0 371.0 659.1 373.0C659.2 375.0 659.3 377.0 659.4 379.0C659.5 381.1 659.5 383.1 659.6 385.1C659.7 387.1 659.8 389.1 659.9 391.1C659.9 393.1 660.0 395.1 660.1 397.1C660.2 399.2 660.3 401.2 660.4 403.2C660.4 405.2 660.5 407.2 660.6 409.2C660.7 411.2 660.8 413.2 660.9 415.2C660.9 417.3 661.0 419.3 661.1 421.3C661.2 423.3 661.3 425.3 661.4 427.3C661.5 429.3 661.6 431.3 661.7 433.3C661.8 435.3 661.9 437.4 662.0 439.4C662.1 441.4 662.1 443.4 662.2 445.4C662.3 447.4 662.4 449.4 662.5 451.4C662.6 453.4 662.7 455.4 662.9 457.5C663.0 459.5 663.1 461.5 663.2 463.5C663.3 465.5 663.4 467.5 663.5 469.5C663.6 471.5 663.7 473.5 663.8 475.6C663.9 477.6 664.0 479.6 664.1 481.6C664.2 483.6 664.3 485.6 664.4 487.6C664.5 489.6 664.6 491.7 664.7 493.7C664.8 495.7 664.9 497.7 665.0 499.7C665.1 501.7 665.2 503.7 665.3 505.7C665.4 507.7 665.5 509.8 665.6 511.8C665.7 513.8 665.8 515.8 665.9 517.8C666.0 519.8 666.1 521.8 666.2 523.8C666.3 525.9 666.4 527.9 666.5 529.9C666.6 531.9 666.7 533.9 666.7 535.9C666.8 537.9 666.9 539.9 667.0 542.0C667.1 544.0 667.2 546.0 667.2 548.0C667.3 550.0 667.4 552.0 667.5 554.0C667.5 556.1 667.6 558.1 667.7 560.1C667.8 562.1 667.8 564.1 667.9 566.1C667.9 568.1 668.0 570.1 668.1 572.2C668.1 574.2 668.2 576.2 668.2 578.2C668.3 580.2 668.3 582.2 668.4 584.2C668.4 586.3 668.5 588.3 668.5 590.3C668.5 592.3 668.6 594.3 668.6 596.3C668.6 598.3 668.7 600.4 668.7 602.4C668.7 604.4 668.8 606.4 668.8 608.4C668.8 610.4 668.8 612.4 668.8 614.4C668.9 616.5 668.9 618.5 668.9 620.5C668.9 622.5 669.0 624.5 669.0 626.5C669.0 628.5 669.0 630.6 669.1 632.6C669.1 634.6 669.1 636.6 669.1 638.6C669.2 640.6 669.2 642.6 669.2 644.7C669.3 646.7 669.3 648.7 669.4 650.7C669.4 652.7 669.5 654.7 669.5 656.7C669.6 658.7 669.6 660.7 669.7 662.8C669.8 664.8 669.8 666.8 669.9 668.8C670.0 670.8 670.1 672.8 670.2 674.8C670.3 676.8 670.4 678.8 670.5 680.9C670.6 682.9 670.7 684.9 670.8 686.9C670.9 688.9 671.1 690.9 671.2 692.9C671.4 694.9 671.5 696.9 671.7 698.9C671.8 700.9 672.0 702.9 672.2 704.9C672.4 707.0 672.6 709.0 672.8 711.0C673.0 713.0 673.2 715.0 673.4 717.0C673.7 719.0 673.9 721.0 674.2 723.0C674.4 725.0 674.7 727.0 675.0 729.0"/>
</g>
<path stroke="#800080" stroke-width="3.6" stroke-linecap="round" fill="none" stroke-dasharray="0 6.65" d="M655.70 374.3 H1004.0"/>
<g stroke="#000" stroke-width="5" stroke-linecap="round" fill="none">
<path d="M141.3 19.5 H611.8 M141.3 727.4 H611.8"/>
<path d="M141.3 19.5 V727.4 M611.8 19.5 V727.4"/>
<path stroke-linejoin="round" d="M650.3 19.5 H1004.0 V727.4 H650.3 Z"/>
<path stroke-width="4.5" d="M141.3 78.5 h6.5M611.8 78.5 h-6.5M650.3 78.5 h6.5M1004.0 78.5 h-6.5M141.3 137.5 h12.9M611.8 137.5 h-12.9M650.3 137.5 h12.9M1004.0 137.5 h-12.9M141.3 196.5 h6.5M611.8 196.5 h-6.5M650.3 196.5 h6.5M1004.0 196.5 h-6.5M141.3 255.7 h12.9M611.8 255.7 h-12.9M650.3 255.7 h12.9M1004.0 255.7 h-12.9M141.3 314.5 h6.5M611.8 314.5 h-6.5M650.3 314.5 h6.5M1004.0 314.5 h-6.5M141.3 373.9 h12.9M611.8 373.9 h-12.9M650.3 373.9 h12.9M1004.0 373.9 h-12.9M141.3 432.4 h6.5M611.8 432.4 h-6.5M650.3 432.4 h6.5M1004.0 432.4 h-6.5M141.3 491.6 h12.9M611.8 491.6 h-12.9M650.3 491.6 h12.9M1004.0 491.6 h-12.9M141.3 550.4 h6.5M611.8 550.4 h-6.5M650.3 550.4 h6.5M1004.0 550.4 h-6.5M141.3 609.6 h12.9M611.8 609.6 h-12.9M650.3 609.6 h12.9M1004.0 609.6 h-12.9M141.3 668.4 h6.5M611.8 668.4 h-6.5M650.3 668.4 h6.5M1004.0 668.4 h-6.5M694.5 19.5 v6.5M694.5 727.4 v-5.5M738.7 19.5 v12.9M738.7 727.4 v-11.9M782.9 19.5 v6.5M782.9 727.4 v-5.5M827.1 19.5 v12.9M827.1 727.4 v-11.9M871.4 19.5 v6.5M871.4 727.4 v-5.5M915.6 19.5 v12.9M915.6 727.4 v-11.9M959.8 19.5 v6.5M959.8 727.4 v-5.5"/>
</g>
<g stroke="#808080" stroke-linecap="round" fill="none">
<path stroke-width="3.4" d="M141.40 18.5 V731.9"/>
<path stroke-width="3" d="M281.60 18.5 V731.9"/>
<path stroke-width="3" d="M403.10 18.5 V731.9"/>
<path stroke-width="3.6" d="M612.15 18.5 V731.9"/>
</g>
<g stroke="#800080" stroke-width="3.6" stroke-linecap="round" fill="none">
<path stroke-dasharray="0 6.65" d="M141.25 374.3 H610.8"/>
</g>
<g fill="none" stroke-width="3.6" stroke-linecap="round">
<path stroke="#000" d="M827.5 50.8 H894.2"/>
<path stroke="#0000ff" d="M827.5 87.6 H894.2"/>
<path stroke="#0000ff" stroke-dasharray="14 19.2" d="M827.8 124.2 H894.6"/>
<path stroke="#0000ff" stroke-width="3.6" stroke-dasharray="2.5 17.3" d="M828.0 161.0 H894.2"/>
<path stroke="#ff0000" d="M827.5 197.2 H894.2"/>
<path stroke="#ff0000" stroke-dasharray="14 19.2" d="M827.8 234.0 H894.6"/>
<path stroke="#ff0000" stroke-width="3.6" stroke-dasharray="2.5 17.3" d="M828.0 270.8 H894.2"/>
<path stroke="#800080" stroke-width="3.3" stroke-dasharray="0 6.72" d="M826.2 305.8 H894.5"/>
</g>
<g font-family="'Liberation Sans',Arial,sans-serif" fill="#000">
<text transform="translate(903.4 61.2) scale(1.045 1)" font-size="29">Total</text>
<text transform="translate(903.4 98.0) scale(1.045 1)" font-size="29">Cu(1)</text>
<text transform="translate(903.4 134.6) scale(1.045 1)" font-size="29">Cu(2)</text>
<text transform="translate(903.4 171.4) scale(1.045 1)" font-size="29">Cu(3)</text>
<text transform="translate(903.4 207.6) scale(1.045 1)" font-size="29">S(1)</text>
<text transform="translate(903.4 244.4) scale(1.045 1)" font-size="29">S(2)</text>
<text transform="translate(903.4 281.2) scale(1.045 1)" font-size="29">S(3)</text>
<text font-size="29"><tspan x="904" y="312.6">E</tspan><tspan x="923.3" y="324.3" font-size="15.6" textLength="50.9" lengthAdjust="spacingAndGlyphs">FERMI</tspan></text>
<text transform="translate(127.4 30.4) scale(1.03 1.01)" font-size="39" text-anchor="end">1.5</text>
<text transform="translate(127.4 148.4) scale(1.03 1.01)" font-size="39" text-anchor="end">1.0</text>
<text transform="translate(127.4 266.4) scale(1.03 1.01)" font-size="39" text-anchor="end">0.5</text>
<text transform="translate(127.4 384.3) scale(1.03 1.01)" font-size="39" text-anchor="end">0.0</text>
<text transform="translate(127.4 502.3) scale(1.03 1.01)" font-size="39" text-anchor="end">-0.5</text>
<text transform="translate(127.4 620.3) scale(1.03 1.01)" font-size="39" text-anchor="end">-1.0</text>
<text transform="translate(127.4 738.3) scale(1.03 1.01)" font-size="39" text-anchor="end">-1.5</text>
<text x="286" y="771.3" font-size="47.5" text-anchor="middle">M</text>
<text x="405.8" y="771.3" font-size="47.5" text-anchor="middle">K</text>
<text transform="translate(345.7 837.3) scale(1 0.975)" font-size="47" font-weight="bold" text-anchor="middle">(a)</text>
<text transform="translate(791 836.8) scale(1 0.975)" font-size="47" font-weight="bold" text-anchor="middle">(b)</text>
<text y="770.4" font-size="47"><tspan x="654.6">N(E), </tspan><tspan x="779.7" font-size="42" textLength="220.3" lengthAdjust="spacingAndGlyphs">states/atom</tspan></text>
<g transform="translate(41.5 552) rotate(-90)">
<text font-size="55"><tspan x="0" y="0" font-size="56.8" textLength="89.8" lengthAdjust="spacingAndGlyphs">E-E</tspan><tspan x="90.3" y="12.5" font-size="28.3" textLength="83.5" lengthAdjust="spacingAndGlyphs">FERMI</tspan><tspan x="173.7" y="0.5"> , </tspan><tspan x="217.4" y="0.8" font-size="56.6">eV</tspan></text>
</g>
</g>
<g font-family="'Liberation Serif','Times New Roman',serif" fill="#000" font-size="44.5">
<text transform="translate(134 768) scale(1.07 1.01)">&#915;</text>
<text transform="translate(600.8 768) scale(1.07 1.01)">&#915;</text>
</g>
</svg>
</body></html>
